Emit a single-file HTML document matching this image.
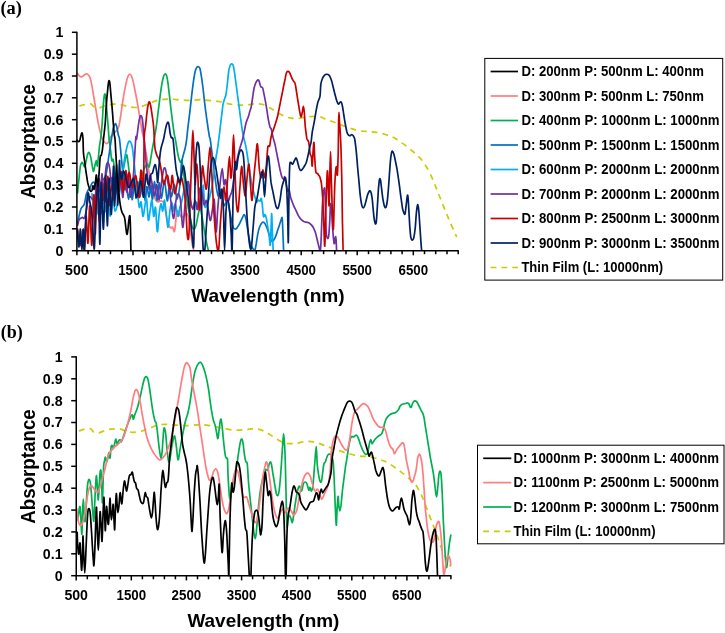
<!DOCTYPE html>
<html lang="en"><head><meta charset="utf-8"><title>Absorptance vs Wavelength</title>
<style>html,body{margin:0;padding:0;background:#fff}body{width:725px;height:633px;overflow:hidden}</style></head>
<body>
<svg width="725" height="633" viewBox="0 0 725 633" style="display:block">
<rect width="725" height="633" fill="#fff"/>
<defs><clipPath id="ca"><rect x="76" y="25" width="390" height="226.2"/></clipPath><clipPath id="cb"><rect x="75" y="350" width="390" height="226.2"/></clipPath></defs>
<path d="M79.4,106.0 C80.2,105.8 82.5,104.9 84.4,104.6 C86.3,104.2 89.2,103.6 90.7,103.9 C92.2,104.2 92.1,105.7 93.4,106.4 C94.8,107.0 96.7,108.0 98.8,107.8 C100.9,107.7 103.6,106.1 106.0,105.5 C108.4,104.9 110.8,104.4 113.2,104.2 C115.6,104.1 118.0,104.2 120.4,104.6 C122.8,104.9 125.2,105.9 127.6,106.4 C130.0,106.9 132.4,107.5 134.8,107.5 C137.2,107.5 139.6,107.1 142.0,106.4 C144.4,105.7 146.8,104.3 149.2,103.3 C151.6,102.4 154.0,101.3 156.4,100.6 C158.8,100.0 161.2,99.6 163.6,99.4 C166.0,99.1 168.4,99.1 170.8,99.2 C173.2,99.2 175.6,99.5 178.0,99.7 C180.4,99.9 182.8,100.2 185.2,100.3 C187.6,100.4 190.0,100.4 192.4,100.3 C194.9,100.2 198.0,99.8 200.0,99.7 C202.0,99.7 202.5,99.9 204.4,100.1 C206.3,100.2 209.2,100.4 211.6,100.6 C214.0,100.9 216.4,101.1 218.8,101.5 C221.2,102.0 223.6,102.8 226.0,103.3 C228.4,103.8 230.8,104.3 233.2,104.6 C235.6,104.9 238.0,105.1 240.4,105.1 C242.8,105.2 245.2,105.0 247.6,104.8 C250.0,104.6 252.4,104.0 254.8,103.9 C257.2,103.8 259.6,103.6 262.0,104.2 C264.4,104.8 266.8,106.2 269.2,107.5 C271.6,108.7 274.0,110.4 276.4,111.8 C278.8,113.2 281.2,114.9 283.6,115.9 C286.0,117.0 288.4,117.7 290.8,118.1 C293.2,118.5 295.6,118.6 298.0,118.4 C300.4,118.3 302.8,117.5 305.2,117.2 C307.6,116.9 310.0,116.5 312.4,116.5 C314.9,116.4 318.0,116.5 320.0,116.8 C322.0,117.2 322.5,117.9 324.4,118.6 C326.3,119.4 329.2,120.4 331.6,121.3 C334.0,122.2 336.4,123.1 338.8,124.0 C341.2,124.9 343.6,125.9 346.0,126.7 C348.4,127.6 350.8,128.4 353.2,129.1 C355.6,129.8 358.0,130.4 360.4,130.9 C362.8,131.3 365.2,131.4 367.6,131.6 C370.0,131.8 372.4,131.8 374.8,132.1 C377.2,132.4 379.6,132.8 382.0,133.4 C384.4,134.0 387.1,135.0 389.2,135.7 C391.3,136.5 392.8,137.1 394.6,138.1 C396.4,139.1 398.2,140.5 400.0,141.7 C401.8,142.9 403.6,144.0 405.4,145.3 C407.2,146.7 409.0,148.3 410.8,149.8 C412.6,151.3 414.4,152.7 416.2,154.3 C418.0,156.0 419.8,157.5 421.6,159.7 C423.4,162.0 425.2,164.7 427.0,167.8 C428.8,171.0 430.9,175.3 432.4,178.6 C433.9,181.9 434.8,184.5 436.0,187.6 C437.3,190.8 438.5,193.8 440.0,197.5 C441.5,201.2 443.3,205.9 445.0,210.0 C446.7,214.1 448.1,217.5 450.0,222.0 C451.9,226.5 455.6,234.5 456.7,237.0" fill="none" stroke="#CCCC00" stroke-width="1.7" stroke-linejoin="round" stroke-linecap="butt" clip-path="url(#ca)" stroke-dasharray="5.8 5"/>
<path d="M77.2,73.3 C77.5,73.6 78.3,74.8 79.0,75.4 C79.7,76.0 80.4,76.8 81.2,76.9 C81.9,76.9 82.7,76.3 83.5,75.8 C84.3,75.3 85.1,74.2 85.8,74.0 C86.6,73.8 87.3,73.8 88.0,74.5 C88.7,75.2 89.5,76.2 90.2,78.1 C90.8,80.1 91.4,83.1 92.0,86.2 C92.6,89.4 93.2,93.4 93.8,97.0 C94.4,100.6 95.0,104.2 95.6,107.8 C96.2,111.4 96.8,115.3 97.4,118.6 C98.0,121.9 98.6,124.9 99.2,127.6 C99.8,130.3 100.4,132.8 101.0,134.8 C101.6,136.9 102.2,138.7 102.8,139.9 C103.4,141.1 104.0,141.6 104.6,142.2 C105.1,142.8 105.6,143.4 106.2,143.5 C106.8,143.6 107.5,143.7 108.2,142.6 C108.9,141.5 109.7,138.4 110.5,137.0 C111.4,135.5 112.2,135.0 113.2,133.9 C114.3,132.8 115.9,131.7 116.8,130.3 C117.8,129.0 118.3,128.4 119.0,125.8 C119.6,123.3 120.2,118.9 120.8,115.0 C121.4,111.1 122.0,106.3 122.6,102.4 C123.2,98.5 123.8,94.9 124.4,91.6 C125.0,88.3 125.6,85.2 126.2,82.6 C126.8,80.1 127.4,77.8 128.0,76.3 C128.6,74.9 129.2,74.0 129.8,74.0 C130.4,74.0 131.0,74.9 131.6,76.3 C132.2,77.8 132.8,80.1 133.4,82.6 C134.0,85.2 134.6,88.6 135.2,91.6 C135.8,94.6 136.4,97.3 137.0,100.6 C137.6,103.9 138.2,107.8 138.8,111.4 C139.4,115.0 140.0,118.6 140.6,122.2 C141.2,125.8 141.8,130.2 142.4,133.0 C142.9,135.8 143.3,136.2 143.8,139.0 C144.4,141.8 145.0,146.2 145.6,149.8 C146.2,153.4 146.8,156.7 147.4,160.6 C148.0,164.5 148.6,169.6 149.2,173.2 C149.8,176.8 150.4,179.2 151.0,182.2 C151.6,185.2 152.2,188.7 152.8,191.2 C153.4,193.8 154.0,195.9 154.6,197.5 C155.2,199.2 155.8,200.4 156.4,201.1 C157.0,201.9 157.6,202.0 158.2,202.0 C158.8,202.0 159.4,201.3 160.0,201.1 C160.6,201.0 161.2,200.8 161.8,201.1 C162.4,201.4 163.0,201.3 163.6,202.9 C164.2,204.6 164.8,208.2 165.4,211.0 C166.0,213.9 166.6,217.6 167.2,220.0 C167.8,222.4 168.4,224.1 169.0,225.4 C169.6,226.8 170.2,227.8 170.8,228.1 C171.4,228.4 172.0,226.6 172.6,227.2 C173.2,227.8 173.9,232.3 174.4,231.7 C174.9,231.1 175.1,226.8 175.5,223.6 C175.9,220.5 176.2,214.9 176.6,212.8 C177.0,210.7 177.5,210.7 178.0,211.0 C178.6,211.3 179.2,213.6 179.8,214.6 C180.4,215.7 181.0,217.0 181.6,217.3 C182.2,217.6 182.8,216.9 183.4,216.4 C184.0,216.0 184.6,215.1 185.2,214.6 C185.8,214.2 186.4,213.1 187.0,213.7 C187.6,214.3 188.2,215.1 188.8,218.2 C189.4,221.4 190.0,228.1 190.6,232.6 C191.2,237.1 191.9,242.2 192.4,245.2 C193.0,248.2 193.6,249.7 193.9,250.6" fill="none" stroke="#FF7C80" stroke-width="1.7" stroke-linejoin="round" stroke-linecap="round" clip-path="url(#ca)"/>
<path d="M77.6,193.0 C77.8,190.6 78.5,183.1 79.0,178.6 C79.5,174.1 80.0,168.7 80.4,166.0 C80.9,163.3 81.4,162.7 81.9,162.4 C82.4,162.1 82.8,163.5 83.3,164.2 C83.8,165.0 84.3,167.5 84.8,166.9 C85.2,166.3 85.7,162.7 86.2,160.6 C86.7,158.5 87.2,155.7 87.6,154.3 C88.1,153.0 88.6,152.2 89.1,152.5 C89.6,152.8 90.0,154.2 90.5,156.1 C91.0,158.1 91.5,161.7 92.0,164.2 C92.4,166.8 92.9,171.1 93.4,171.4 C93.9,171.7 94.4,167.8 94.8,166.0 C95.3,164.2 95.9,160.6 96.3,160.6 C96.7,160.6 97.0,166.6 97.4,166.0 C97.7,165.4 98.1,160.3 98.4,157.0 C98.8,153.7 99.2,149.2 99.5,146.2 C99.9,143.2 100.3,141.2 100.6,139.0 C100.9,136.8 101.1,135.2 101.3,133.0 C101.6,130.8 101.7,130.0 102.0,125.8 C102.3,121.6 102.8,112.8 103.1,107.8 C103.5,102.9 103.9,98.4 104.2,96.1 C104.5,93.9 104.8,93.6 105.1,94.3 C105.4,95.1 105.7,97.8 106.0,100.6 C106.3,103.5 106.6,107.8 106.9,111.4 C107.2,115.0 107.5,118.0 107.8,122.2 C108.1,126.4 108.6,133.2 108.9,136.6 C109.2,140.0 109.3,140.4 109.6,142.6 C109.9,144.8 110.2,146.8 110.5,149.8 C110.9,152.8 111.3,159.0 111.8,160.6 C112.2,162.3 112.7,157.9 113.2,159.7 C113.7,161.5 114.2,167.4 114.7,171.4 C115.1,175.5 115.6,180.1 116.1,184.0 C116.6,187.9 117.1,193.9 117.5,194.8 C118.0,195.7 118.5,191.5 119.0,189.4 C119.5,187.3 119.9,184.6 120.4,182.2 C121.0,179.8 121.6,177.7 122.2,175.0 C122.8,172.3 123.4,169.0 124.0,166.0 C124.6,163.0 125.3,158.8 125.8,157.0 C126.3,155.2 126.5,154.3 126.9,155.2 C127.3,156.1 127.6,159.4 128.0,162.4 C128.4,165.4 128.9,169.6 129.4,173.2 C130.0,176.8 130.6,182.8 131.2,184.0 C131.8,185.2 132.4,181.3 133.0,180.4 C133.6,179.5 134.2,178.3 134.8,178.6 C135.4,178.9 136.0,181.0 136.6,182.2 C137.2,183.4 137.8,186.4 138.4,185.8 C139.0,185.2 139.6,180.4 140.2,178.6 C140.8,176.8 141.4,176.5 142.0,175.0 C142.6,173.5 143.2,171.1 143.8,169.6 C144.4,168.1 145.0,166.9 145.6,166.0 C146.2,165.1 146.8,164.1 147.4,164.2 C148.0,164.4 148.6,168.1 149.2,166.9 C149.8,165.7 150.4,160.5 151.0,157.0 C151.6,153.6 152.3,149.2 152.8,146.2 C153.4,143.2 153.9,140.9 154.3,139.0 C154.6,137.1 154.6,137.0 155.0,134.8 C155.3,132.6 155.9,129.7 156.4,125.8 C157.0,121.9 157.6,116.2 158.2,111.4 C158.8,106.6 159.4,101.5 160.0,97.0 C160.6,92.5 161.2,87.9 161.8,84.4 C162.4,81.0 163.1,78.1 163.6,76.3 C164.2,74.6 164.6,74.1 165.1,74.0 C165.5,73.8 166.0,74.0 166.5,75.4 C167.0,76.9 167.5,79.3 167.9,82.6 C168.4,85.9 168.9,91.0 169.4,95.2 C169.9,99.4 170.3,103.3 170.8,107.8 C171.4,112.3 172.0,117.7 172.6,122.2 C173.2,126.7 173.9,131.9 174.4,134.8 C174.9,137.8 175.1,137.4 175.5,139.9 C176.0,142.4 176.6,146.7 177.1,149.8 C177.7,153.0 178.3,156.7 178.9,158.8 C179.5,160.9 180.2,162.1 180.7,162.4 C181.2,162.7 181.5,159.1 182.0,160.6 C182.4,162.1 182.9,167.2 183.4,171.4 C184.0,175.6 184.6,181.0 185.2,185.8 C185.8,190.6 186.4,196.0 187.0,200.2 C187.6,204.4 188.2,207.7 188.8,211.0 C189.4,214.3 190.0,217.3 190.6,220.0 C191.2,222.7 191.8,225.7 192.4,227.2 C193.0,228.7 193.6,229.3 194.2,229.0 C194.8,228.7 195.4,227.5 196.0,225.4 C196.6,223.3 197.2,219.4 197.8,216.4 C198.5,213.4 199.4,207.7 200.0,207.4 C200.6,207.1 201.1,211.6 201.7,214.6 C202.3,217.6 202.9,221.8 203.5,225.4 C204.1,229.0 204.7,232.9 205.3,236.2 C205.9,239.5 206.6,242.9 207.1,245.2 C207.6,247.6 208.2,249.4 208.4,250.3" fill="none" stroke="#00B050" stroke-width="1.7" stroke-linejoin="round" stroke-linecap="round" clip-path="url(#ca)"/>
<path d="M77.6,223.6 C77.8,222.4 78.5,218.8 79.0,216.4 C79.5,214.0 80.2,210.9 80.8,209.2 C81.4,207.6 82.0,207.4 82.6,206.5 C83.2,205.6 83.8,205.8 84.4,203.8 C85.0,201.9 85.6,197.1 86.2,194.8 C86.8,192.6 87.4,191.4 88.0,190.3 C88.6,189.3 89.2,189.6 89.8,188.5 C90.4,187.5 91.0,185.1 91.6,184.0 C92.2,183.0 92.8,182.2 93.4,182.2 C94.0,182.2 94.6,183.3 95.2,184.0 C95.8,184.8 96.4,187.0 97.0,186.7 C97.6,186.4 98.2,182.7 98.8,182.2 C99.4,181.8 100.0,184.3 100.6,184.0 C101.2,183.7 101.8,181.3 102.4,180.4 C103.0,179.5 103.6,179.5 104.2,178.6 C104.8,177.7 105.3,178.6 106.0,175.0 C106.8,171.4 107.9,162.7 108.7,157.0 C109.6,151.3 110.5,144.5 111.1,140.8 C111.6,137.1 111.8,136.9 112.1,134.8 C112.5,132.8 112.8,130.2 113.2,128.5 C113.6,126.9 114.2,125.7 114.7,124.9 C115.1,124.1 115.4,123.4 115.7,123.7 C116.1,124.0 116.4,124.9 116.8,126.7 C117.2,128.6 117.8,132.8 118.3,134.8 C118.7,136.9 119.0,135.3 119.5,139.0 C120.0,142.7 120.7,151.0 121.3,157.0 C121.9,163.0 122.5,169.6 123.1,175.0 C123.7,180.4 124.4,188.0 124.9,189.4 C125.4,190.8 125.5,181.8 126.1,183.4 C126.7,185.1 127.9,199.4 128.6,199.4 C129.4,199.4 130.0,183.2 130.7,183.3 C131.3,183.3 131.7,199.9 132.3,199.7 C133.0,199.5 133.9,182.2 134.5,182.0 C135.2,181.8 135.6,198.5 136.1,198.4 C136.6,198.4 137.0,182.2 137.7,181.9 C138.3,181.7 139.2,197.0 140.0,196.9 C140.9,196.7 141.9,180.4 142.8,181.0 C143.6,181.6 144.4,199.4 145.1,200.3 C145.8,201.3 146.2,187.3 146.8,186.7 C147.5,186.2 148.4,197.2 149.1,197.0 C149.7,196.8 150.3,184.9 150.9,185.3 C151.4,185.7 151.8,200.0 152.5,199.4 C153.1,198.8 153.9,181.6 154.6,181.7 C155.4,181.9 156.2,200.3 156.9,200.5 C157.7,200.6 158.4,183.2 159.2,182.8 C159.9,182.5 160.6,198.6 161.4,198.3 C162.3,198.0 163.5,180.4 164.5,180.8 C165.4,181.2 166.5,200.1 167.3,200.9 C168.1,201.6 168.7,186.1 169.4,185.4 C170.1,184.8 170.7,197.2 171.5,197.0 C172.3,196.9 173.3,184.1 174.3,184.4 C175.2,184.7 176.2,199.4 177.2,198.9 C178.2,198.5 179.6,187.8 180.4,181.7 C181.1,175.6 180.8,168.0 181.6,162.4 C182.4,156.8 184.4,151.9 185.2,148.0 C186.1,144.1 186.2,142.4 186.7,139.0 C187.1,135.6 187.4,131.9 187.9,127.6 C188.4,123.3 189.1,118.3 189.7,113.2 C190.3,108.1 190.9,102.1 191.5,97.0 C192.1,91.9 192.7,86.8 193.3,82.6 C193.9,78.4 194.5,74.4 195.1,71.8 C195.7,69.3 196.3,68.2 196.9,67.3 C197.5,66.5 198.2,66.5 198.7,66.8 C199.3,67.1 199.6,67.4 200.1,69.1 C200.5,70.9 201.0,74.1 201.5,77.2 C202.0,80.4 202.5,84.1 203.0,88.0 C203.4,91.9 203.9,96.1 204.4,100.6 C204.9,105.1 205.6,110.5 206.2,115.0 C206.8,119.5 207.5,124.0 208.0,127.6 C208.5,131.2 209.1,134.7 209.4,136.6 C209.8,138.5 209.8,136.8 210.2,139.0 C210.5,141.2 211.1,145.6 211.6,149.8 C212.1,154.0 212.8,159.4 213.4,164.2 C214.0,169.0 214.6,174.1 215.2,178.6 C215.8,183.1 216.4,188.2 217.0,191.2 C217.6,194.2 218.2,196.9 218.8,196.6 C219.4,196.3 220.0,188.8 220.6,189.4 C221.2,190.0 221.8,197.5 222.4,200.2 C223.0,202.9 223.6,205.3 224.2,205.6 C224.8,205.9 225.4,202.9 226.0,202.0 C226.6,201.1 227.2,198.7 227.8,200.2 C228.4,201.7 229.0,207.7 229.6,211.0 C230.2,214.3 230.8,217.3 231.4,220.0 C232.0,222.7 232.6,225.7 233.2,227.2 C233.8,228.7 234.4,228.9 235.0,229.0 C235.6,229.2 236.2,228.7 236.8,228.1 C237.4,227.5 238.0,226.5 238.6,225.4 C239.2,224.4 239.8,223.0 240.4,221.8 C241.0,220.6 241.6,219.4 242.2,218.2 C242.8,217.0 243.4,214.6 244.0,214.6 C244.6,214.6 245.2,215.8 245.8,218.2 C246.4,220.6 247.0,225.4 247.6,229.0 C248.2,232.6 248.8,237.1 249.4,239.8 C250.0,242.5 250.6,243.7 251.2,245.2 C251.8,246.7 252.4,248.0 253.0,248.8 C253.6,249.7 254.3,251.2 254.8,250.3 C255.4,249.4 255.8,246.1 256.3,243.4 C256.7,240.8 257.2,237.1 257.7,234.4 C258.2,231.7 258.9,229.0 259.5,227.2 C260.1,225.4 260.7,224.5 261.3,223.6 C261.9,222.8 262.5,222.2 263.1,222.2 C263.7,222.2 264.3,222.8 264.9,223.6 C265.5,224.5 266.1,225.7 266.7,227.2 C267.3,228.7 267.9,230.8 268.5,232.6 C269.1,234.4 269.7,236.5 270.3,238.0 C270.9,239.5 271.5,241.3 272.1,241.6 C272.7,241.9 273.3,240.7 273.9,239.8 C274.5,238.9 275.1,237.7 275.7,236.2 C276.3,234.7 276.9,232.6 277.5,230.8 C278.1,229.0 278.7,227.2 279.3,225.4 C279.9,223.6 280.6,221.2 281.1,220.0 C281.6,218.8 281.9,216.1 282.2,218.2 C282.5,220.3 282.7,227.3 282.9,232.6 C283.1,238.0 283.5,247.3 283.6,250.3" fill="none" stroke="#0070C0" stroke-width="1.7" stroke-linejoin="round" stroke-linecap="round" clip-path="url(#ca)"/>
<path d="M92.0,193.9 C92.4,197.3 93.5,214.3 94.2,214.2 C94.8,214.0 95.1,193.2 95.8,193.2 C96.5,193.2 97.5,213.7 98.2,214.4 C98.9,215.1 99.6,197.4 100.2,197.2 C100.8,197.0 101.0,213.2 101.6,213.4 C102.2,213.6 103.0,198.6 103.7,198.4 C104.4,198.2 105.4,212.3 106.1,212.4 C106.7,212.4 107.0,198.0 107.7,198.6 C108.4,199.2 109.5,216.7 110.3,216.0 C111.2,215.3 112.0,195.3 112.8,194.5 C113.6,193.6 114.0,210.4 115.0,211.0 C116.0,211.7 117.4,204.4 118.6,198.4 C119.8,192.4 121.2,181.9 122.2,175.0 C123.3,168.1 124.0,162.1 124.9,157.0 C125.8,151.9 126.8,147.0 127.6,144.4 C128.4,141.8 129.0,140.9 129.8,141.2 C130.5,141.5 131.4,143.0 132.1,146.2 C132.8,149.4 133.3,155.2 133.9,160.6 C134.5,166.0 135.1,173.2 135.7,178.6 C136.3,184.0 136.9,188.2 137.5,193.0 C138.1,197.8 138.7,205.9 139.3,207.4 C139.9,208.9 140.5,200.5 141.1,202.0 C141.7,203.5 142.3,215.5 142.9,216.4 C143.5,217.3 144.1,210.4 144.7,207.4 C145.3,204.4 145.9,196.3 146.5,198.4 C147.1,200.5 147.7,217.9 148.3,220.0 C148.9,222.1 149.5,214.3 150.1,211.0 C150.7,207.7 151.3,199.3 151.9,200.2 C152.5,201.1 153.1,215.2 153.7,216.4 C154.3,217.6 154.9,204.9 155.5,207.4 C156.1,210.0 156.7,230.5 157.3,231.7 C157.9,232.9 158.5,219.3 159.1,214.6 C159.7,210.0 160.3,204.4 160.9,203.8 C161.5,203.2 162.1,211.6 162.7,211.0 C163.3,210.4 163.9,199.6 164.5,200.2 C165.1,200.8 165.7,210.1 166.3,214.6 C166.9,219.1 167.5,227.8 168.1,227.2 C168.7,226.6 169.3,215.2 169.9,211.0 C170.5,206.8 171.1,202.0 171.7,202.0 C172.3,202.0 172.9,210.7 173.5,211.0 C174.1,211.3 174.6,202.9 175.3,203.8 C176.1,204.7 177.3,215.8 178.0,216.4 C178.8,217.0 179.2,209.8 179.8,207.4 C180.4,205.0 181.0,204.4 181.6,202.0 C182.2,199.6 182.8,196.0 183.4,193.0 C184.0,190.0 184.6,185.8 185.2,184.0 C185.8,182.2 186.4,181.3 187.0,182.2 C187.6,183.1 188.2,186.1 188.8,189.4 C189.4,192.7 190.0,199.0 190.6,202.0 C191.2,205.0 191.5,207.4 192.4,207.4 C193.3,207.4 194.8,201.7 196.0,202.0 C197.3,202.3 199.1,208.4 200.0,209.2 C200.9,210.0 201.0,210.8 201.5,206.8 C202.0,202.8 202.5,185.2 203.1,185.2 C203.7,185.1 204.1,203.9 204.9,206.7 C205.7,209.5 207.0,204.3 208.0,202.0 C209.0,199.7 210.0,196.0 210.7,193.0 C211.5,190.0 211.9,187.9 212.5,184.0 C213.1,180.1 213.7,174.1 214.3,169.6 C214.9,165.1 215.5,160.9 216.1,157.0 C216.7,153.1 217.5,149.2 217.9,146.2 C218.4,143.2 218.4,142.1 218.8,139.0 C219.2,135.9 219.8,131.6 220.2,127.6 C220.7,123.6 221.2,118.9 221.7,115.0 C222.2,111.1 222.6,106.9 223.1,104.2 C223.6,101.5 224.1,100.5 224.6,98.8 C225.0,97.2 225.5,97.0 226.0,94.3 C226.5,91.6 227.0,86.7 227.5,82.6 C227.9,78.6 228.4,73.0 228.9,70.0 C229.4,67.1 229.9,66.0 230.3,65.0 C230.8,64.0 231.3,63.8 231.8,63.9 C232.3,64.0 232.7,63.9 233.2,65.5 C233.7,67.1 234.2,70.5 234.7,73.6 C235.1,76.8 235.6,80.8 236.1,84.4 C236.6,88.0 237.1,91.6 237.5,95.2 C238.0,98.8 238.5,102.4 239.0,106.0 C239.5,109.6 239.9,113.2 240.4,116.8 C240.9,120.4 241.4,124.5 241.9,127.6 C242.3,130.8 242.9,133.8 243.3,135.7 C243.7,137.6 243.6,137.3 244.0,139.0 C244.4,140.7 245.2,143.2 245.8,146.2 C246.4,149.2 247.0,153.1 247.6,157.0 C248.2,160.9 248.8,165.7 249.4,169.6 C250.0,173.5 250.6,177.1 251.2,180.4 C251.8,183.7 252.4,186.7 253.0,189.4 C253.6,192.1 254.2,194.5 254.8,196.6 C255.4,198.7 256.0,201.4 256.6,202.0 C257.2,202.6 257.8,200.4 258.4,200.2 C259.0,200.1 259.7,201.4 260.2,201.1 C260.7,200.8 260.9,197.7 261.3,198.4 C261.7,199.2 262.0,202.6 262.4,205.6 C262.7,208.6 263.0,214.9 263.5,216.4 C263.9,217.9 264.4,214.3 264.9,214.6 C265.4,214.9 265.9,216.1 266.3,218.2 C266.8,220.3 267.3,224.2 267.8,227.2 C268.3,230.2 268.8,233.2 269.2,236.2 C269.6,239.2 270.0,246.4 270.3,245.2 C270.6,244.0 270.8,234.3 271.0,229.0 C271.3,223.8 271.5,212.5 271.7,213.7 C272.0,214.9 272.2,230.1 272.5,236.2 C272.7,242.3 273.1,247.9 273.2,250.3" fill="none" stroke="#00B0F0" stroke-width="1.7" stroke-linejoin="round" stroke-linecap="round" clip-path="url(#ca)"/>
<path d="M77.6,225.4 C77.8,224.5 78.5,221.2 79.0,220.0 C79.5,218.8 80.2,218.7 80.8,218.2 C81.4,217.8 82.0,217.3 82.6,217.3 C83.2,217.3 83.8,219.3 84.4,218.2 C85.0,217.2 85.6,214.0 86.2,211.0 C86.8,208.0 87.4,202.6 88.0,200.2 C88.6,197.8 89.2,196.9 89.8,196.6 C90.4,196.3 91.0,197.8 91.6,198.4 C92.2,199.0 92.8,199.8 93.4,200.2 C94.0,200.7 94.7,204.7 95.2,201.1 C95.7,197.5 96.0,179.3 96.5,178.5 C97.0,177.6 97.5,196.0 98.0,196.0 C98.5,196.0 98.8,178.4 99.3,178.5 C99.7,178.5 100.2,197.3 100.6,196.5 C101.0,195.8 101.4,174.7 101.9,173.9 C102.4,173.2 102.9,193.1 103.6,192.0 C104.3,191.0 105.3,172.7 106.0,167.8 C106.7,162.9 107.2,162.4 107.8,162.4 C108.4,162.4 109.0,164.2 109.6,167.8 C110.2,171.4 110.9,182.4 111.4,184.0 C111.9,185.7 112.0,175.5 112.5,177.7 C113.0,180.0 113.6,198.1 114.3,197.5 C114.9,196.9 115.7,174.5 116.3,174.1 C116.8,173.6 117.1,194.5 117.8,194.7 C118.4,195.0 119.4,175.1 120.2,175.5 C121.0,175.9 122.0,196.8 122.7,197.4 C123.5,198.0 123.9,180.2 124.6,179.3 C125.3,178.4 126.3,192.8 126.9,192.0 C127.5,191.1 127.7,173.1 128.3,174.0 C128.9,174.9 129.9,196.4 130.7,197.1 C131.5,197.7 132.4,187.5 133.2,177.8 C134.1,168.1 135.2,145.5 135.7,139.0 C136.3,132.5 136.2,140.9 136.6,139.0 C137.0,137.1 137.6,131.0 138.1,127.6 C138.5,124.2 139.0,120.6 139.5,118.6 C140.0,116.6 140.5,115.4 140.9,115.6 C141.4,115.7 142.0,116.9 142.4,119.5 C142.8,122.1 143.2,128.0 143.5,131.2 C143.8,134.5 143.8,134.7 144.2,139.0 C144.5,143.3 145.1,151.0 145.6,157.0 C146.2,163.0 146.8,169.6 147.4,175.0 C148.0,180.4 148.8,189.3 149.2,189.4 C149.7,189.5 149.5,176.3 150.0,175.5 C150.5,174.6 151.5,181.1 152.3,184.5 C153.0,187.9 153.8,195.8 154.5,195.8 C155.3,195.8 156.0,183.7 156.8,184.5 C157.5,185.2 158.3,200.3 159.0,200.3 C159.8,200.3 160.5,189.6 161.3,184.5 C162.0,179.4 162.9,172.5 163.5,169.8 C164.2,167.2 164.8,167.4 165.3,168.7 C165.9,170.0 166.3,174.3 166.9,177.7 C167.6,181.1 168.4,184.5 169.2,189.0 C169.9,193.5 170.7,199.9 171.4,204.8 C172.2,209.7 172.9,219.1 173.7,218.4 C174.5,217.6 175.2,204.4 176.0,200.3 C176.7,196.2 177.5,193.5 178.2,193.5 C179.0,193.5 179.7,194.7 180.5,200.3 C181.2,205.9 182.0,226.6 182.7,227.4 C183.5,228.1 184.2,212.0 185.0,204.8 C185.7,197.7 186.6,188.1 187.2,184.5 C187.9,180.9 188.3,180.7 188.8,183.4 C189.4,186.0 190.0,196.0 190.6,200.3 C191.3,204.6 192.1,209.3 192.9,209.3 C193.6,209.3 194.4,200.3 195.1,200.3 C195.9,200.3 196.7,211.2 197.4,209.3 C198.2,207.4 198.9,192.0 199.7,189.0 C200.4,186.0 201.2,188.6 201.9,191.3 C202.7,193.9 203.4,203.3 204.2,204.8 C204.9,206.3 205.8,199.5 206.4,200.3 C207.1,201.0 207.6,205.9 208.2,209.3 C208.9,212.7 209.7,221.0 210.5,220.6 C211.2,220.2 212.1,210.5 212.8,207.1 C213.4,203.7 213.8,196.2 214.3,200.3 C214.9,204.4 215.6,230.4 216.1,231.9 C216.7,233.4 217.1,217.2 217.7,209.3 C218.4,201.4 219.2,191.3 220.0,184.5 C220.7,177.7 221.6,168.7 222.2,168.7 C222.9,168.7 223.4,182.6 224.0,184.5 C224.6,186.4 225.2,177.3 225.8,180.0 C226.5,182.6 227.2,197.7 227.9,200.3 C228.6,202.9 229.4,197.7 230.1,195.8 C230.9,193.9 231.5,193.9 232.4,189.0 C233.3,184.1 234.7,172.8 235.8,166.4 C236.9,160.0 238.0,155.1 239.2,150.6 C240.3,146.1 241.4,143.9 242.6,139.3 C243.7,134.8 245.0,127.3 245.9,123.5 C246.9,119.8 247.7,118.8 248.3,116.8 C249.0,114.8 249.3,113.1 249.8,111.4 C250.3,109.8 250.7,109.3 251.2,106.9 C251.7,104.5 252.2,100.2 252.7,97.0 C253.1,93.9 253.6,90.3 254.1,88.0 C254.6,85.8 255.1,84.7 255.5,83.5 C256.0,82.3 256.6,81.4 257.0,80.8 C257.4,80.2 257.7,79.9 258.1,79.9 C258.4,80.0 258.8,80.3 259.1,81.2 C259.5,82.1 259.9,84.3 260.2,85.3 C260.6,86.3 260.9,86.7 261.3,87.1 C261.7,87.6 262.3,86.7 262.7,88.0 C263.2,89.4 263.7,92.8 264.2,95.2 C264.7,97.6 265.1,99.7 265.6,102.4 C266.1,105.1 266.6,108.4 267.1,111.4 C267.5,114.4 268.0,117.9 268.5,120.4 C269.0,123.0 269.5,125.2 269.9,126.7 C270.4,128.2 271.0,128.1 271.4,129.4 C271.8,130.8 272.1,133.2 272.5,134.8 C272.8,136.4 273.1,137.4 273.5,139.0 C274.0,140.6 274.5,142.3 275.0,144.4 C275.5,146.5 275.9,148.9 276.4,151.6 C277.0,154.3 277.6,157.6 278.2,160.6 C278.8,163.6 279.4,166.9 280.0,169.6 C280.6,172.3 281.2,175.2 281.8,176.8 C282.4,178.5 283.1,179.5 283.6,179.5 C284.1,179.5 284.3,176.1 284.7,176.8 C285.1,177.6 285.7,181.6 286.1,184.0 C286.6,186.4 287.1,190.3 287.6,191.2 C288.1,192.1 288.5,188.5 289.0,189.4 C289.5,190.3 290.0,194.7 290.5,196.6 C290.9,198.6 291.4,199.6 291.9,201.1 C292.4,202.6 293.0,204.0 293.7,205.6 C294.4,207.3 295.4,209.2 296.2,211.0 C297.1,212.8 297.9,215.0 298.8,216.4 C299.6,217.9 300.4,218.8 301.3,219.7 C302.1,220.5 303.0,221.0 303.8,221.5 C304.6,221.9 305.5,222.0 306.3,222.2 C307.2,222.4 307.9,222.2 308.8,222.7 C309.7,223.3 311.0,224.5 311.8,225.4 C312.6,226.3 313.0,226.9 313.6,228.1 C314.2,229.3 314.8,230.7 315.4,232.6 C316.0,234.6 316.6,237.4 317.2,239.8 C317.8,242.2 318.5,245.3 319.0,247.0 C319.5,248.8 320.0,253.3 320.4,250.3 C320.9,247.3 321.2,237.1 321.5,229.0 C321.9,221.0 322.2,208.3 322.6,202.0 C323.0,195.7 323.3,193.3 323.7,191.2 C324.0,189.1 324.5,186.1 324.8,189.4 C325.1,192.7 325.2,203.8 325.5,211.0 C325.7,218.2 325.9,228.1 326.2,232.6 C326.5,237.1 326.9,237.4 327.3,238.0 C327.7,238.6 328.3,239.2 328.7,236.2 C329.1,233.2 329.5,225.4 329.8,220.0 C330.1,214.6 330.2,205.3 330.5,203.8 C330.8,202.3 331.2,206.8 331.6,211.0 C332.0,215.2 332.3,223.9 332.7,229.0 C333.0,234.1 333.5,239.2 333.8,241.6 C334.1,244.0 334.2,244.0 334.5,243.4 C334.7,242.8 335.0,239.0 335.2,238.0 C335.4,237.1 335.7,235.6 335.9,237.7 C336.2,239.7 336.5,248.2 336.6,250.3" fill="none" stroke="#7030A0" stroke-width="1.7" stroke-linejoin="round" stroke-linecap="round" clip-path="url(#ca)"/>
<path d="M77.6,229.0 C77.7,231.1 78.3,240.4 78.6,241.6 C79.0,242.8 79.4,235.6 79.7,236.2 C80.1,236.8 80.4,244.3 80.8,245.2 C81.2,246.1 81.5,244.2 81.9,241.6 C82.2,239.1 82.6,228.6 83.0,230.0 C83.4,231.4 83.8,252.2 84.4,249.9 C84.9,247.6 85.5,217.3 86.1,216.2 C86.7,215.0 87.3,245.0 87.9,243.2 C88.5,241.4 89.2,205.0 89.8,205.4 C90.5,205.7 91.1,247.0 91.8,245.2 C92.5,243.4 93.3,196.7 93.9,194.8 C94.4,192.9 94.9,232.1 95.2,234.1 C95.6,236.1 95.6,214.6 96.0,206.8 C96.4,199.0 96.8,184.7 97.4,187.3 C97.9,189.9 98.7,221.9 99.4,222.2 C100.2,222.5 101.1,192.9 101.8,189.2 C102.5,185.5 103.0,201.9 103.5,200.0 C104.0,198.1 104.4,177.4 104.8,177.7 C105.2,178.0 105.3,201.9 105.8,201.7 C106.4,201.5 107.4,175.8 107.9,176.4 C108.5,177.1 108.7,204.1 109.3,205.6 C110.0,207.2 110.9,186.4 111.7,185.5 C112.5,184.6 113.5,201.2 114.2,200.4 C114.9,199.7 115.0,182.6 115.8,181.0 C116.6,179.5 118.1,192.6 119.0,191.0 C119.9,189.4 120.8,171.3 121.5,171.6 C122.2,171.8 122.5,192.6 123.2,192.4 C124.0,192.2 125.1,171.4 125.8,170.5 C126.4,169.6 126.6,186.8 127.2,187.0 C127.7,187.3 128.3,171.9 129.2,172.0 C130.0,172.1 131.2,187.2 132.3,187.8 C133.4,188.4 134.6,174.0 135.7,175.6 C136.9,177.2 138.4,198.4 139.3,197.5 C140.2,196.6 140.2,171.8 140.9,170.2 C141.6,168.6 142.9,193.3 143.4,188.1 C144.0,182.9 143.8,149.3 144.2,139.0 C144.5,128.6 145.1,130.4 145.6,125.8 C146.1,121.2 146.6,115.2 147.1,111.4 C147.5,107.7 148.1,104.9 148.5,103.3 C148.9,101.8 149.2,101.6 149.6,102.1 C149.9,102.5 150.2,103.9 150.7,106.0 C151.1,108.2 151.6,111.7 152.1,115.0 C152.6,118.3 153.2,122.0 153.5,125.8 C153.9,129.7 154.1,134.5 154.3,138.2 C154.5,142.0 154.6,145.6 155.0,148.4 C155.4,151.2 156.2,153.5 156.8,155.1 C157.4,156.8 158.0,157.0 158.6,158.5 C159.1,160.0 159.5,161.0 160.2,164.2 C160.8,167.4 161.8,174.3 162.4,177.7 C163.1,181.1 163.4,184.5 164.0,184.5 C164.6,184.5 165.2,179.2 165.8,177.7 C166.4,176.2 167.0,174.3 167.6,175.5 C168.2,176.6 168.7,182.2 169.2,184.5 C169.7,186.7 170.3,190.5 170.8,189.0 C171.3,187.5 171.7,176.2 172.1,175.5 C172.6,174.7 173.0,181.5 173.5,184.5 C173.9,187.5 174.3,193.1 174.8,193.5 C175.4,193.9 176.1,189.4 176.6,186.7 C177.2,184.1 177.7,178.1 178.2,177.7 C178.7,177.3 179.2,184.5 179.8,184.5 C180.4,184.5 180.9,177.0 181.6,177.7 C182.3,178.5 183.2,184.5 183.9,189.0 C184.5,193.5 185.1,197.3 185.7,204.8 C186.2,212.3 186.7,228.9 187.2,234.2 C187.8,239.4 188.3,242.1 188.8,236.4 C189.3,230.8 189.7,213.8 190.2,200.3 C190.7,186.7 191.3,166.8 191.8,155.1 C192.2,143.5 192.5,130.3 192.9,130.3 C193.3,130.3 193.6,146.1 194.0,155.1 C194.4,164.2 194.7,183.0 195.1,184.5 C195.6,186.0 196.0,165.3 196.5,164.2 C197.0,163.0 197.4,170.2 197.9,177.7 C198.3,185.2 198.7,206.3 199.2,209.3 C199.7,212.3 200.3,202.9 200.8,195.8 C201.3,188.6 201.8,169.4 202.4,166.4 C202.9,163.4 203.5,174.0 204.2,177.7 C204.9,181.5 205.8,190.9 206.4,189.0 C207.1,187.1 207.6,173.4 208.2,166.4 C208.8,159.5 209.5,147.2 210.0,147.2 C210.6,147.2 210.9,157.6 211.4,166.4 C211.9,175.3 212.6,190.1 213.2,200.3 C213.8,210.5 214.4,219.9 215.0,227.4 C215.6,234.9 216.2,241.7 216.8,245.4 C217.4,249.2 218.0,253.7 218.6,250.0 C219.2,246.2 219.8,231.1 220.4,222.9 C221.0,214.6 221.6,206.3 222.2,200.3 C222.8,194.3 223.4,186.7 224.0,186.7 C224.6,186.7 225.2,201.8 225.8,200.3 C226.4,198.8 227.1,185.1 227.7,177.7 C228.3,170.4 228.9,156.3 229.5,156.3 C230.0,156.3 230.4,176.0 230.8,177.7 C231.3,179.4 231.7,173.6 232.2,166.4 C232.6,159.3 233.1,134.8 233.5,134.8 C234.0,134.8 234.4,155.5 234.9,166.4 C235.3,177.3 235.7,192.8 236.2,200.3 C236.8,207.8 237.4,213.5 238.0,211.6 C238.6,209.7 239.2,196.5 239.8,189.0 C240.4,181.5 241.0,167.2 241.6,166.4 C242.2,165.7 242.9,179.6 243.5,184.5 C244.1,189.4 244.7,196.9 245.3,195.8 C245.9,194.7 246.5,183.0 247.1,177.7 C247.7,172.5 248.3,163.0 248.9,164.2 C249.4,165.3 249.9,178.5 250.5,184.5 C251.0,190.5 251.5,201.4 252.0,200.3 C252.6,199.2 253.2,184.5 253.8,177.7 C254.4,170.9 255.0,165.3 255.6,159.7 C256.2,154.0 256.8,142.4 257.4,143.9 C258.1,145.4 258.7,163.0 259.3,168.7 C259.9,174.3 260.5,177.5 261.1,177.7 C261.7,177.9 262.3,169.8 262.9,169.8 C263.5,169.8 264.1,178.3 264.7,177.7 C265.2,177.2 265.7,171.5 266.3,166.4 C266.8,161.4 267.3,150.6 267.8,147.2 C268.4,143.9 269.2,147.5 269.6,146.1 C270.1,144.7 270.3,141.2 270.7,139.0 C271.1,136.8 271.6,134.6 272.1,133.0 C272.6,131.4 273.1,130.8 273.5,129.4 C274.0,128.1 274.5,126.4 275.0,124.9 C275.5,123.4 275.9,122.1 276.4,120.4 C276.9,118.8 277.4,117.1 277.9,115.0 C278.3,112.9 278.8,110.2 279.3,107.8 C279.8,105.4 280.3,103.0 280.7,100.6 C281.2,98.2 281.7,95.8 282.2,93.4 C282.7,91.0 283.1,88.6 283.6,86.2 C284.1,83.8 284.6,81.3 285.1,79.0 C285.5,76.8 286.0,74.0 286.5,72.7 C287.0,71.4 287.5,71.4 287.9,71.3 C288.4,71.2 288.9,71.5 289.4,72.2 C289.9,72.9 290.3,74.3 290.8,75.4 C291.3,76.6 291.8,78.1 292.3,79.0 C292.7,80.0 293.2,80.4 293.7,81.2 C294.2,81.9 294.7,82.1 295.1,83.5 C295.6,85.0 295.9,87.6 296.2,89.8 C296.6,92.1 296.9,94.3 297.3,97.0 C297.7,99.7 298.3,103.2 298.8,106.0 C299.2,108.9 299.8,112.3 300.2,114.1 C300.6,115.9 300.9,117.3 301.3,116.8 C301.6,116.4 302.0,113.2 302.4,111.4 C302.7,109.7 303.1,106.4 303.4,106.4 C303.7,106.4 303.9,108.2 304.2,111.4 C304.5,114.7 304.9,121.9 305.2,125.8 C305.6,129.7 306.0,132.6 306.3,134.8 C306.6,137.0 306.6,137.7 307.0,139.0 C307.5,140.3 308.3,140.2 308.8,142.6 C309.3,145.0 309.6,151.0 310.0,153.4 C310.4,155.8 311.1,154.9 311.4,157.0 C311.8,159.1 311.9,167.2 312.2,166.0 C312.5,164.8 312.9,153.7 313.2,149.8 C313.5,145.9 313.7,141.4 314.0,142.6 C314.2,143.8 314.4,152.2 314.7,157.0 C315.0,161.8 315.3,168.7 315.8,171.4 C316.2,174.1 316.7,172.6 317.2,173.2 C317.7,173.8 318.2,174.3 318.6,175.0 C319.1,175.8 319.6,176.2 320.1,177.7 C320.6,179.2 321.1,180.9 321.5,184.0 C321.9,187.2 322.2,190.6 322.6,196.6 C323.0,202.6 323.3,211.8 323.7,220.0 C324.0,228.3 324.4,247.6 324.8,246.1 C325.1,244.6 325.5,222.3 325.8,211.0 C326.2,199.8 326.6,185.2 326.9,178.6 C327.2,172.0 327.4,169.6 327.6,171.4 C327.9,173.2 328.1,183.7 328.4,189.4 C328.6,195.1 328.8,208.0 329.1,205.6 C329.3,203.2 329.6,184.0 329.8,175.0 C330.0,166.0 330.3,151.6 330.5,151.6 C330.8,151.6 330.9,165.1 331.2,175.0 C331.5,184.9 332.0,202.0 332.3,211.0 C332.7,220.0 333.0,232.0 333.4,229.0 C333.8,226.0 334.1,202.6 334.5,193.0 C334.8,183.4 335.2,175.8 335.6,171.4 C335.9,167.1 336.3,166.3 336.6,166.9 C336.9,167.5 337.1,176.7 337.4,175.0 C337.6,173.4 337.9,163.0 338.1,157.0 C338.3,151.0 338.4,144.8 338.4,139.0 C338.5,133.2 338.5,126.7 338.6,122.2 C338.7,117.8 338.8,112.3 339.0,112.3 C339.1,112.3 339.3,117.8 339.5,122.2 C339.8,126.7 340.2,130.2 340.6,139.0 C341.0,147.8 341.4,161.5 341.7,175.0 C342.0,188.5 342.2,207.5 342.4,220.0 C342.6,232.6 343.0,245.2 343.1,250.3" fill="none" stroke="#C80000" stroke-width="1.7" stroke-linejoin="round" stroke-linecap="round" clip-path="url(#ca)"/>
<path d="M77.6,230.8 C77.8,233.5 78.5,247.3 79.0,247.0 C79.5,246.7 80.0,228.4 80.4,229.0 C80.9,229.6 81.4,250.6 81.9,250.6 C82.4,250.6 82.9,229.2 83.3,229.0 C83.7,228.9 83.9,252.7 84.4,249.7 C84.9,246.7 85.6,220.5 86.2,211.0 C86.8,201.6 87.4,194.5 88.0,193.0 C88.6,191.5 89.2,199.0 89.8,202.0 C90.4,205.0 91.1,205.9 91.6,211.0 C92.1,216.1 92.6,226.3 93.0,232.6 C93.5,238.9 93.9,250.9 94.3,248.8 C94.7,246.7 95.1,229.3 95.6,220.0 C96.0,210.7 96.5,198.6 97.0,193.0 C97.5,187.4 98.0,178.0 98.5,186.6 C99.0,195.1 99.4,244.9 99.9,244.3 C100.3,243.6 100.7,185.3 101.3,182.8 C101.9,180.3 102.7,230.4 103.4,229.1 C104.1,227.9 104.9,175.9 105.6,175.4 C106.2,174.8 106.8,225.3 107.3,225.8 C107.9,226.3 108.5,180.2 109.1,178.3 C109.8,176.4 110.6,216.4 111.3,214.4 C112.1,212.4 113.0,167.6 113.5,166.2 C114.1,164.8 114.3,206.2 114.7,205.9 C115.2,205.5 115.9,164.3 116.4,164.2 C116.9,164.1 117.3,205.6 117.8,205.2 C118.3,204.9 119.0,167.6 119.4,161.9 C119.7,156.2 119.6,168.2 120.0,171.1 C120.4,174.0 121.1,179.3 121.6,179.3 C122.2,179.3 122.7,172.0 123.3,171.1 C123.8,170.3 124.3,172.8 124.9,174.4 C125.4,176.0 125.8,178.7 126.5,180.9 C127.2,183.1 128.1,187.1 128.9,187.4 C129.8,187.7 130.6,183.9 131.4,182.5 C132.2,181.2 133.0,176.8 133.8,179.3 C134.6,181.7 135.4,195.5 136.3,197.2 C137.1,198.8 137.9,191.7 138.7,189.0 C139.5,186.3 140.3,179.5 141.1,180.9 C142.0,182.2 142.8,198.2 143.6,197.2 C144.4,196.1 145.3,176.8 146.0,174.4 C146.7,172.0 147.1,180.9 147.6,182.5 C148.2,184.1 148.7,185.5 149.3,184.1 C149.8,182.8 150.4,176.3 150.9,174.4 C151.4,172.5 151.8,174.4 152.5,172.8 C153.2,171.1 154.3,164.9 155.0,164.6 C155.6,164.4 156.1,168.2 156.6,171.1 C157.0,174.1 157.3,183.3 157.7,182.5 C158.1,181.7 158.5,171.7 159.0,166.3 C159.5,160.8 159.9,154.5 160.7,150.0 C161.4,145.5 162.9,142.1 163.6,139.0 C164.4,135.8 164.6,133.6 165.1,131.2 C165.5,128.9 166.0,126.4 166.5,124.9 C167.0,123.4 167.5,122.2 167.9,122.2 C168.4,122.2 168.7,123.1 169.0,124.9 C169.4,126.7 169.7,130.9 170.1,133.0 C170.5,135.1 170.7,136.5 171.2,137.5 C171.7,138.5 172.4,136.4 173.0,139.0 C173.5,141.6 173.9,148.3 174.4,153.4 C175.0,158.5 175.6,165.6 176.2,169.6 C176.8,173.7 177.4,175.6 178.0,177.7 C178.6,179.8 179.2,182.7 179.8,182.2 C180.4,181.8 181.1,177.7 181.6,175.0 C182.2,172.3 182.6,166.8 183.1,166.0 C183.6,165.3 184.0,167.8 184.5,170.5 C185.0,173.2 185.4,177.9 186.0,182.2 C186.6,186.6 187.5,191.8 188.1,196.6 C188.7,201.4 189.0,206.2 189.5,211.0 C190.0,215.8 190.6,220.6 191.1,225.4 C191.6,230.2 192.1,236.2 192.5,239.8 C192.9,243.4 193.3,250.3 193.6,247.0 C193.9,243.7 194.1,230.5 194.3,220.0 C194.6,209.5 194.8,194.5 195.0,184.0 C195.3,173.5 195.6,163.5 195.9,157.0 C196.2,150.6 196.5,147.8 196.8,145.3 C197.1,142.8 197.4,141.9 197.7,142.2 C198.1,142.5 198.6,143.1 199.0,147.1 C199.4,151.1 199.7,158.4 200.1,166.0 C200.4,173.7 200.8,182.5 201.2,193.0 C201.5,203.5 201.9,219.5 202.2,229.0 C202.6,238.6 202.9,246.7 203.3,250.3 C203.7,253.8 204.3,253.8 204.8,250.3 C205.2,246.7 205.7,237.1 206.2,229.0 C206.7,221.0 207.4,211.0 208.0,202.0 C208.6,193.0 209.2,181.9 209.8,175.0 C210.4,168.1 211.0,163.5 211.6,160.6 C212.2,157.8 212.8,157.3 213.4,157.9 C214.0,158.5 214.6,161.4 215.2,164.2 C215.8,167.1 216.4,171.1 217.0,175.0 C217.6,178.9 218.2,183.7 218.8,187.6 C219.4,191.5 220.1,198.1 220.6,198.4 C221.1,198.7 221.6,187.3 222.0,189.4 C222.5,191.5 223.1,200.9 223.5,211.0 C223.9,221.2 224.1,250.3 224.6,250.3 C225.0,250.3 225.5,219.4 226.0,211.0 C226.6,202.7 227.2,200.2 227.8,200.2 C228.4,200.2 229.1,205.6 229.6,211.0 C230.2,216.4 230.6,226.1 231.1,232.6 C231.5,239.2 231.8,256.9 232.1,250.3 C232.5,243.7 232.7,207.7 233.2,193.0 C233.7,178.4 234.5,166.3 235.0,162.4 C235.6,158.5 236.0,170.2 236.5,169.6 C236.9,169.0 237.4,161.8 237.9,158.8 C238.4,155.8 239.1,153.0 239.7,151.6 C240.3,150.2 240.9,149.6 241.5,150.2 C242.1,150.8 242.8,151.1 243.3,155.2 C243.8,159.3 244.3,167.2 244.7,175.0 C245.2,182.8 245.7,193.6 246.2,202.0 C246.7,210.4 247.1,218.5 247.6,225.4 C248.2,232.3 248.8,239.6 249.4,243.4 C250.0,247.3 250.6,250.9 251.2,248.5 C251.8,246.1 252.4,235.9 253.0,229.0 C253.6,222.2 254.2,212.5 254.8,207.4 C255.5,202.3 256.3,202.0 257.0,198.4 C257.7,194.8 258.5,189.7 259.1,185.8 C259.8,181.9 260.4,177.3 260.9,175.0 C261.5,172.8 262.0,171.1 262.4,172.3 C262.8,173.5 263.1,178.2 263.5,182.2 C263.8,186.3 264.2,196.6 264.5,196.6 C264.9,196.6 265.2,187.9 265.6,182.2 C266.0,176.5 266.6,166.8 267.1,162.4 C267.5,158.1 268.1,155.5 268.5,156.1 C268.9,156.7 269.2,161.7 269.6,166.0 C270.0,170.4 270.5,178.0 271.0,182.2 C271.6,186.4 272.2,188.2 272.8,191.2 C273.4,194.2 274.0,197.5 274.6,200.2 C275.2,202.9 275.8,206.2 276.4,207.4 C277.0,208.7 277.6,209.0 278.2,207.8 C278.8,206.6 279.4,203.6 280.0,200.2 C280.6,196.9 281.2,190.8 281.8,187.6 C282.4,184.5 283.0,183.0 283.6,181.3 C284.2,179.7 284.9,177.0 285.4,177.7 C285.9,178.5 286.1,180.3 286.5,185.8 C286.9,191.4 287.3,201.6 287.6,211.0 C287.9,220.5 288.1,245.5 288.3,242.5 C288.5,239.5 288.8,205.8 289.0,193.0 C289.3,180.3 289.4,171.1 289.7,166.0 C290.0,160.9 290.3,162.7 290.8,162.4 C291.3,162.1 292.0,164.5 292.6,164.2 C293.2,163.9 293.8,161.7 294.4,160.6 C295.0,159.6 295.7,157.6 296.2,157.9 C296.8,158.2 297.2,160.8 297.7,162.4 C298.2,164.1 298.6,166.5 299.1,167.8 C299.7,169.2 300.3,170.4 300.9,170.5 C301.5,170.7 302.1,169.5 302.7,168.7 C303.3,168.0 303.9,167.1 304.5,166.0 C305.1,165.0 305.7,164.2 306.3,162.4 C306.9,160.6 307.6,157.6 308.1,155.2 C308.7,152.8 309.1,150.1 309.6,148.0 C310.0,145.9 310.6,144.5 311.0,142.6 C311.4,140.7 311.5,138.5 311.7,136.6 C312.0,134.7 312.0,133.6 312.4,131.2 C312.9,128.8 313.6,125.5 314.2,122.2 C314.8,118.9 315.4,114.7 316.0,111.4 C316.6,108.1 317.2,105.0 317.8,102.4 C318.5,99.9 319.5,99.1 320.0,96.1 C320.5,93.1 320.4,87.4 320.8,84.4 C321.2,81.4 322.0,79.6 322.6,78.1 C323.2,76.6 323.8,76.0 324.4,75.4 C325.0,74.8 325.6,74.5 326.2,74.3 C326.8,74.2 327.4,74.2 328.0,74.5 C328.6,74.8 329.2,75.3 329.8,76.3 C330.4,77.4 331.0,78.9 331.6,80.8 C332.2,82.8 332.8,85.6 333.4,88.0 C334.0,90.4 334.6,93.0 335.2,95.2 C335.8,97.5 336.5,100.0 337.0,101.5 C337.5,103.0 338.0,104.1 338.4,104.2 C338.9,104.4 339.4,102.8 339.9,102.4 C340.4,102.1 340.9,101.5 341.3,102.1 C341.7,102.7 342.0,103.9 342.4,106.0 C342.8,108.2 343.4,112.0 343.8,115.0 C344.3,118.0 344.8,121.3 345.3,124.0 C345.8,126.7 346.3,129.4 346.7,131.2 C347.2,133.0 347.6,134.1 348.2,134.8 C348.7,135.6 349.4,135.8 350.0,135.7 C350.6,135.7 351.2,134.5 351.8,134.5 C352.3,134.5 352.7,135.0 353.2,135.7 C353.7,136.5 354.2,136.7 354.7,139.0 C355.1,141.3 355.6,145.3 356.1,149.8 C356.6,154.3 357.1,160.6 357.5,166.0 C358.0,171.4 358.5,177.1 359.0,182.2 C359.5,187.3 359.9,192.7 360.4,196.6 C360.9,200.5 361.4,203.8 361.9,205.6 C362.3,207.5 362.8,207.8 363.3,207.8 C363.8,207.8 364.3,206.9 364.7,205.6 C365.2,204.4 365.7,202.0 366.2,200.2 C366.7,198.4 367.1,196.3 367.6,194.8 C368.1,193.4 368.6,192.2 369.1,191.6 C369.5,191.0 370.0,190.4 370.5,191.2 C371.0,192.1 371.5,193.9 371.9,196.6 C372.4,199.3 372.7,203.8 373.0,207.4 C373.4,211.0 373.7,215.5 374.1,218.2 C374.5,220.9 374.8,223.0 375.2,223.6 C375.5,224.2 375.9,224.5 376.3,221.8 C376.6,219.1 377.0,212.8 377.3,207.4 C377.7,202.0 378.1,194.1 378.4,189.4 C378.8,184.8 379.1,181.0 379.5,179.5 C379.9,178.0 380.2,178.8 380.6,180.4 C380.9,182.1 381.2,186.1 381.7,189.4 C382.1,192.7 382.6,197.4 383.1,200.2 C383.6,203.1 384.1,205.4 384.5,206.5 C385.0,207.7 385.5,208.1 386.0,207.1 C386.5,206.0 386.9,204.4 387.4,200.2 C387.9,196.1 388.4,188.5 388.9,182.2 C389.3,175.9 389.9,167.2 390.3,162.4 C390.7,157.6 391.0,155.3 391.4,153.4 C391.7,151.5 392.0,151.1 392.5,151.2 C392.9,151.4 393.4,152.7 393.9,154.3 C394.4,155.9 394.9,158.4 395.3,160.6 C395.8,162.9 396.3,165.1 396.8,167.8 C397.3,170.5 397.7,173.5 398.2,176.8 C398.7,180.1 399.2,184.0 399.7,187.6 C400.1,191.2 400.6,195.0 401.1,198.4 C401.6,201.9 402.1,205.9 402.5,208.3 C403.0,210.8 403.6,212.3 404.0,213.2 C404.4,214.1 404.7,215.0 405.1,213.7 C405.4,212.5 405.8,208.5 406.1,205.6 C406.5,202.8 406.9,198.2 407.2,196.6 C407.5,195.1 407.7,194.5 407.9,196.3 C408.2,198.1 408.4,202.6 408.7,207.4 C409.0,212.3 409.4,220.5 409.7,225.4 C410.1,230.4 410.4,234.7 410.8,237.1 C411.2,239.6 411.8,240.0 412.3,240.2 C412.7,240.3 413.2,239.9 413.7,238.0 C414.2,236.2 414.7,232.9 415.1,229.0 C415.6,225.1 415.9,218.5 416.2,214.6 C416.6,210.8 417.0,207.5 417.3,206.0 C417.6,204.4 417.8,204.4 418.0,205.3 C418.3,206.1 418.5,207.7 418.8,211.0 C419.1,214.4 419.5,220.3 419.8,225.4 C420.2,230.5 420.6,237.5 420.9,241.6 C421.2,245.8 421.5,248.8 421.6,250.3" fill="none" stroke="#002060" stroke-width="1.7" stroke-linejoin="round" stroke-linecap="round" clip-path="url(#ca)"/>
<path d="M77.2,140.2 C77.4,140.5 78.2,141.8 78.6,141.7 C79.1,141.6 79.5,141.1 79.9,139.9 C80.3,138.7 80.8,135.6 81.2,134.5 C81.6,133.3 81.9,132.3 82.2,133.0 C82.5,133.8 82.8,135.6 83.0,139.0 C83.2,142.4 83.2,149.5 83.5,153.4 C83.8,157.3 84.3,159.1 84.8,162.4 C85.2,165.7 85.7,169.9 86.2,173.2 C86.7,176.5 87.2,179.8 87.6,182.2 C88.1,184.6 88.6,186.1 89.1,187.6 C89.6,189.1 90.0,190.8 90.5,191.2 C91.0,191.7 91.5,191.2 92.0,190.3 C92.4,189.4 92.7,186.0 93.0,185.8 C93.4,185.7 93.8,189.7 94.1,189.4 C94.5,189.1 94.8,186.4 95.2,184.0 C95.6,181.6 96.0,175.6 96.3,175.0 C96.6,174.4 96.7,178.6 97.0,180.4 C97.3,182.2 97.7,187.3 98.1,185.8 C98.4,184.3 98.8,176.2 99.2,171.4 C99.5,166.6 99.9,159.7 100.2,157.0 C100.6,154.3 101.0,156.4 101.3,155.2 C101.7,154.0 102.0,152.5 102.4,149.8 C102.8,147.1 103.2,141.8 103.5,139.0 C103.8,136.2 103.9,135.8 104.2,133.0 C104.5,130.2 104.9,127.0 105.3,122.2 C105.6,117.4 106.0,109.3 106.4,104.2 C106.7,99.1 107.1,95.2 107.5,91.6 C107.8,88.0 108.2,84.4 108.5,82.6 C108.8,80.8 109.0,80.5 109.3,80.8 C109.5,81.1 109.7,81.7 110.0,84.4 C110.3,87.1 110.7,93.1 111.1,97.0 C111.4,100.9 111.8,103.6 112.1,107.8 C112.5,112.0 112.9,117.7 113.2,122.2 C113.6,126.7 114.0,132.0 114.3,134.8 C114.6,137.6 114.8,136.2 115.0,139.0 C115.3,141.8 115.5,147.4 115.7,151.6 C116.0,155.8 116.2,159.4 116.5,164.2 C116.8,169.0 117.1,175.3 117.5,180.4 C118.0,185.5 118.5,190.6 119.0,194.8 C119.5,199.0 119.9,202.8 120.4,205.6 C120.9,208.5 121.4,210.4 121.9,211.9 C122.3,213.4 122.8,213.6 123.3,214.6 C123.8,215.7 124.3,216.1 124.7,218.2 C125.2,220.3 125.5,224.5 125.8,227.2 C126.2,229.9 126.5,234.1 126.9,234.4 C127.3,234.7 127.6,231.7 128.0,229.0 C128.3,226.3 128.7,220.3 129.1,218.2 C129.4,216.1 129.7,214.6 130.0,216.4 C130.2,218.2 130.3,223.3 130.5,229.0 C130.6,234.7 130.8,247.0 130.9,250.6" fill="none" stroke="#000000" stroke-width="1.7" stroke-linejoin="round" stroke-linecap="round" clip-path="url(#ca)"/>
<path d="M79.0,431.0 C79.9,430.7 82.5,429.6 84.4,429.2 C86.4,428.9 89.2,428.4 90.7,428.9 C92.2,429.3 92.1,431.3 93.4,431.9 C94.8,432.6 96.7,433.1 98.8,432.8 C100.9,432.5 103.6,430.8 106.0,430.1 C108.4,429.5 110.8,429.0 113.2,428.9 C115.6,428.7 118.3,428.9 120.4,429.2 C122.5,429.6 123.7,430.5 125.8,431.0 C127.9,431.5 130.3,432.3 133.0,432.3 C135.7,432.3 139.0,431.8 142.0,431.0 C145.0,430.2 148.0,428.5 151.0,427.4 C154.0,426.4 157.0,425.2 160.0,424.7 C163.0,424.2 166.0,424.3 169.0,424.4 C172.0,424.5 175.0,425.1 178.0,425.3 C181.0,425.5 184.0,425.7 187.0,425.6 C190.0,425.6 193.7,425.1 196.0,424.9 C198.3,424.8 198.8,424.7 200.8,424.7 C202.8,424.8 205.3,424.9 208.0,425.3 C210.7,425.7 214.0,426.5 217.0,427.1 C220.0,427.7 223.0,428.4 226.0,428.9 C229.0,429.4 232.0,430.0 235.0,430.1 C238.0,430.3 241.3,430.0 244.0,429.8 C246.7,429.6 248.8,429.0 251.2,428.9 C253.6,428.8 256.0,428.7 258.4,429.2 C260.8,429.7 263.2,430.7 265.6,431.9 C268.0,433.1 270.4,434.9 272.8,436.4 C275.2,437.9 277.6,439.8 280.0,440.9 C282.4,442.1 284.8,442.8 287.2,443.3 C289.6,443.7 292.0,443.8 294.4,443.6 C296.8,443.4 299.2,442.6 301.6,442.2 C304.0,441.8 306.4,441.3 308.8,441.3 C311.2,441.3 314.2,441.8 316.0,442.2 C317.9,442.6 318.5,443.1 319.9,443.6 C321.3,444.2 322.5,444.7 324.4,445.4 C326.4,446.2 329.2,447.3 331.6,448.1 C334.0,449.0 336.4,449.7 338.8,450.5 C341.2,451.3 343.6,452.3 346.0,453.0 C348.4,453.7 350.8,454.2 353.2,454.8 C355.6,455.3 358.0,455.9 360.4,456.2 C362.8,456.5 365.2,456.3 367.6,456.6 C370.0,456.9 372.4,457.4 374.8,458.0 C377.2,458.6 379.9,459.4 382.0,460.2 C384.1,460.9 385.0,461.1 387.4,462.5 C389.8,463.9 393.7,466.6 396.4,468.5 C399.1,470.4 401.2,472.0 403.6,473.9 C406.0,475.9 408.7,478.3 410.8,480.2 C412.9,482.2 414.4,483.1 416.2,485.6 C418.0,488.2 419.8,491.6 421.6,495.5 C423.4,499.4 425.2,504.4 427.0,509.0 C428.8,513.7 430.9,519.5 432.4,523.4 C433.9,527.3 434.8,529.1 436.0,532.4 C437.2,535.7 438.4,539.9 439.6,543.2 C440.8,546.5 442.0,549.5 443.2,552.2 C444.4,554.9 445.6,557.0 446.8,559.4 C448.1,561.8 450.1,565.4 450.8,566.6" fill="none" stroke="#CCCC00" stroke-width="1.7" stroke-linejoin="round" stroke-linecap="butt" clip-path="url(#cb)" stroke-dasharray="5.8 5"/>
<path d="M77.2,519.8 C77.4,519.2 77.9,518.2 78.3,516.2 C78.6,514.3 79.1,509.6 79.4,508.1 C79.7,506.6 79.8,505.6 80.1,507.2 C80.3,508.9 80.5,513.5 80.8,518.0 C81.1,522.5 81.6,535.4 81.9,534.2 C82.2,533.0 82.4,516.7 82.6,510.8 C82.8,505.0 83.1,499.1 83.3,499.1 C83.6,499.1 83.7,507.1 84.0,510.8 C84.3,514.6 84.8,522.5 85.1,521.6 C85.5,520.7 85.8,511.1 86.2,505.4 C86.6,499.7 86.9,491.6 87.3,487.4 C87.6,483.2 88.0,481.5 88.4,480.2 C88.7,478.9 89.1,479.2 89.4,479.8 C89.8,480.4 90.2,481.0 90.5,483.8 C90.9,486.6 91.2,491.9 91.6,496.4 C92.0,500.9 92.3,506.7 92.7,510.8 C93.0,515.0 93.5,521.6 93.8,521.3 C94.1,521.0 94.2,515.0 94.5,509.0 C94.8,503.1 95.2,491.2 95.6,485.6 C95.9,480.1 96.2,475.4 96.5,475.7 C96.8,476.0 97.1,483.4 97.4,487.4 C97.7,491.5 98.0,500.3 98.3,500.0 C98.6,499.7 98.9,490.3 99.2,485.6 C99.5,481.0 99.8,474.5 100.1,472.1 C100.4,469.7 100.7,469.0 101.0,471.2 C101.2,473.5 101.4,480.4 101.7,485.6 C101.9,490.9 102.2,503.3 102.4,502.7 C102.6,502.1 102.9,488.2 103.1,482.0 C103.3,475.9 103.5,469.0 103.7,465.8 C103.8,462.6 103.9,464.0 104.2,462.5 C104.5,461.1 104.9,457.3 105.3,457.1 C105.7,457.0 106.1,461.5 106.6,461.6 C107.0,461.8 107.4,459.5 107.8,458.0 C108.2,456.5 108.5,452.6 108.9,452.6 C109.3,452.6 109.6,458.9 110.0,458.0 C110.3,457.1 110.7,449.3 111.1,447.2 C111.4,445.1 111.8,445.2 112.1,445.4 C112.5,445.7 112.8,449.0 113.2,448.7 C113.6,448.4 114.2,445.2 114.7,443.6 C115.1,442.0 115.5,439.0 115.9,439.1 C116.3,439.3 116.7,444.2 117.2,444.5 C117.6,444.8 118.1,441.7 118.6,440.9 C119.1,440.1 119.6,439.5 120.1,439.7 C120.5,439.8 120.8,442.2 121.3,441.8 C121.8,441.4 122.4,439.4 123.1,437.3 C123.9,435.2 124.9,431.8 125.8,429.2 C126.7,426.7 127.6,424.3 128.5,422.0 C129.4,419.8 130.6,416.9 131.2,415.7 C131.9,414.6 132.1,414.6 132.5,415.2 C132.8,415.8 133.0,419.4 133.4,419.3 C133.8,419.3 134.1,416.8 134.8,414.8 C135.5,412.9 136.6,410.6 137.5,407.6 C138.4,404.6 139.3,400.7 140.2,396.8 C141.1,392.9 142.2,387.4 142.9,384.2 C143.7,381.1 144.2,379.2 144.7,377.9 C145.3,376.6 145.7,376.5 146.2,376.6 C146.7,376.8 147.3,377.2 147.8,378.8 C148.3,380.4 148.7,382.7 149.2,386.0 C149.8,389.3 150.4,394.4 151.0,398.6 C151.6,402.8 152.2,407.5 152.8,411.2 C153.5,415.0 154.4,419.2 155.0,421.1 C155.5,423.1 155.7,421.3 156.1,422.9 C156.5,424.6 156.8,427.0 157.3,431.0 C157.8,435.1 158.5,442.7 159.1,447.2 C159.7,451.7 160.4,457.4 160.9,458.0 C161.4,458.6 161.7,455.3 162.2,450.8 C162.6,446.3 163.2,434.8 163.6,431.0 C164.0,427.3 164.2,427.7 164.5,428.3 C164.9,428.9 165.3,430.9 165.8,434.6 C166.2,438.4 166.7,446.3 167.2,450.8 C167.7,455.3 168.2,460.4 168.7,461.6 C169.1,462.8 169.6,460.4 170.1,458.0 C170.6,455.6 171.2,450.5 171.7,447.2 C172.3,443.9 173.0,440.0 173.5,438.2 C174.0,436.4 174.3,435.2 174.8,436.4 C175.2,437.6 175.7,441.5 176.2,445.4 C176.8,449.3 177.4,458.9 178.0,459.8 C178.6,460.7 179.2,454.1 179.8,450.8 C180.4,447.5 180.7,444.8 181.6,440.0 C182.5,435.2 184.2,426.5 185.2,422.0 C186.3,417.5 187.1,416.3 187.9,413.0 C188.7,409.7 189.4,406.1 190.0,402.2 C190.6,398.3 191.1,394.4 191.8,389.6 C192.6,384.8 193.6,377.5 194.5,373.4 C195.4,369.4 196.2,367.2 197.2,365.3 C198.2,363.4 199.5,362.2 200.4,362.2 C201.3,362.2 201.8,363.4 202.6,365.3 C203.4,367.2 204.4,370.0 205.3,373.4 C206.2,376.9 207.3,381.8 208.0,386.0 C208.8,390.2 209.2,394.4 209.8,398.6 C210.4,402.8 211.0,407.6 211.6,411.2 C212.2,414.8 212.8,417.8 213.4,420.2 C214.0,422.6 214.7,423.5 215.2,425.6 C215.7,427.7 216.2,430.7 216.6,432.8 C217.1,435.0 217.5,439.2 217.9,438.6 C218.3,438.0 218.8,432.1 219.2,429.2 C219.6,426.3 219.9,422.8 220.2,421.1 C220.6,419.5 220.8,418.6 221.1,419.3 C221.4,420.1 221.7,422.8 222.0,425.6 C222.4,428.5 222.8,432.8 223.1,436.4 C223.5,440.0 223.8,444.1 224.2,447.2 C224.6,450.4 224.9,453.5 225.3,455.3 C225.6,457.1 226.0,457.4 226.4,458.0 C226.7,458.6 227.2,457.3 227.5,458.9 C227.7,460.5 227.7,464.4 227.8,467.6 C227.9,470.8 227.9,473.3 228.2,478.4 C228.5,483.5 229.1,495.5 229.6,498.2 C230.1,500.9 230.6,496.7 231.1,494.6 C231.5,492.5 231.7,489.2 232.3,485.6 C233.0,482.0 234.3,476.5 235.0,473.0 C235.8,469.6 236.4,466.9 236.8,464.9 C237.2,462.9 237.2,462.8 237.5,460.7 C237.8,458.7 238.1,455.8 238.6,452.6 C239.1,449.5 239.9,444.1 240.4,441.8 C241.0,439.6 241.4,438.8 241.9,439.1 C242.3,439.4 242.7,441.1 243.1,443.6 C243.5,446.2 243.9,451.4 244.4,454.4 C244.8,457.4 245.3,460.0 245.8,461.6 C246.3,463.2 246.8,460.6 247.3,464.0 C247.7,467.4 248.0,476.0 248.5,482.0 C249.0,488.0 249.7,494.3 250.3,500.0 C250.9,505.7 251.5,510.8 252.1,516.2 C252.7,521.6 253.4,528.7 253.9,532.4 C254.4,536.2 254.8,538.7 255.2,538.7 C255.6,538.7 255.9,535.9 256.3,532.4 C256.6,529.0 257.1,522.8 257.5,518.0 C257.9,513.2 258.3,508.4 258.8,503.6 C259.3,498.8 260.0,493.1 260.6,489.2 C261.2,485.3 261.8,482.6 262.4,480.2 C262.9,477.8 263.3,476.6 263.8,474.8 C264.4,473.0 265.0,470.2 265.6,469.4 C266.3,468.7 267.2,471.1 267.8,470.3 C268.3,469.6 268.5,466.3 268.9,464.9 C269.3,463.5 269.7,462.1 270.1,462.0 C270.5,461.8 270.9,462.2 271.4,464.0 C271.8,465.8 272.3,469.7 272.8,473.0 C273.4,476.3 274.0,480.4 274.6,483.8 C275.2,487.3 275.9,491.8 276.4,493.7 C277.0,495.7 277.4,496.0 277.9,495.5 C278.3,495.1 278.7,493.9 279.1,491.0 C279.5,488.2 280.0,482.6 280.4,478.4 C280.7,474.2 281.0,469.2 281.3,465.8 C281.5,462.4 281.6,461.1 281.8,458.0 C282.0,454.9 282.2,451.3 282.5,447.2 C282.8,443.2 283.3,433.7 283.6,433.7 C284.0,433.7 284.4,442.9 284.7,447.2 C285.0,451.6 285.1,455.2 285.2,459.8 C285.4,464.4 285.5,469.6 285.6,474.8 C285.7,480.0 285.8,482.5 286.0,491.0 C286.2,499.6 286.5,521.6 286.9,526.1 C287.2,530.6 287.7,519.8 288.1,518.0 C288.5,516.2 288.9,515.3 289.4,515.3 C289.8,515.3 290.3,516.8 290.8,518.0 C291.3,519.2 291.8,522.8 292.3,522.5 C292.7,522.2 293.0,519.4 293.5,516.2 C294.0,513.1 294.7,507.5 295.3,503.6 C295.9,499.7 296.5,495.7 297.1,492.8 C297.7,490.0 298.4,487.4 298.9,486.5 C299.4,485.6 299.7,486.7 300.2,487.4 C300.6,488.2 301.1,491.6 301.6,491.0 C302.2,490.4 302.8,485.3 303.4,483.8 C304.0,482.3 304.6,482.0 305.2,482.0 C305.8,482.0 306.4,482.5 307.0,483.8 C307.6,485.2 308.3,489.5 308.8,490.1 C309.3,490.7 309.6,487.3 310.0,487.4 C310.4,487.6 311.0,491.3 311.4,491.0 C311.9,490.7 312.5,488.6 312.9,485.6 C313.3,482.6 313.7,476.6 314.0,473.0 C314.3,469.4 314.3,468.4 314.7,464.0 C315.1,459.6 315.8,446.4 316.2,446.4 C316.6,446.4 316.9,459.6 317.2,464.0 C317.6,468.4 317.9,470.3 318.3,473.0 C318.7,475.7 319.2,478.7 319.7,480.2 C320.2,481.7 320.7,482.6 321.2,482.0 C321.6,481.4 321.9,479.0 322.2,476.6 C322.6,474.2 323.0,469.8 323.3,467.6 C323.6,465.4 323.7,464.4 324.0,463.4 C324.4,462.5 324.9,462.9 325.3,462.0 C325.7,461.1 326.1,459.2 326.6,458.0 C327.0,456.8 327.5,455.4 328.0,454.8 C328.5,454.1 329.3,454.1 329.8,454.1 C330.3,454.1 330.8,454.1 331.2,454.8 C331.7,455.4 332.0,456.5 332.3,458.0 C332.7,459.6 333.1,460.0 333.4,464.0 C333.7,468.0 334.0,475.1 334.3,482.0 C334.6,488.9 334.9,498.2 335.2,505.4 C335.5,512.6 336.0,524.3 336.3,525.2 C336.6,526.1 336.7,515.6 337.0,510.8 C337.3,506.0 337.8,497.3 338.1,496.4 C338.4,495.5 338.5,503.0 338.8,505.4 C339.1,507.8 339.5,510.8 339.9,510.8 C340.2,510.8 340.5,508.7 341.0,505.4 C341.4,502.1 341.9,495.8 342.4,491.0 C342.9,486.2 343.7,480.8 344.2,476.6 C344.7,472.4 345.3,468.3 345.6,465.8 C346.0,463.3 346.1,463.5 346.4,461.6 C346.7,459.7 347.0,457.1 347.5,454.4 C347.9,451.7 348.4,448.0 348.9,445.4 C349.4,442.9 349.9,440.6 350.3,439.1 C350.8,437.6 351.3,436.8 351.8,436.4 C352.3,436.1 352.7,437.0 353.2,437.0 C353.7,436.9 354.2,436.4 354.7,436.1 C355.1,435.8 355.6,435.1 356.1,435.2 C356.6,435.2 357.1,435.6 357.5,436.4 C358.0,437.2 358.5,438.7 359.0,440.0 C359.5,441.4 359.9,443.0 360.4,444.5 C361.0,446.0 361.6,447.7 362.2,449.0 C362.8,450.4 363.4,451.7 364.0,452.6 C364.6,453.5 365.3,454.3 365.8,454.4 C366.4,454.6 366.8,454.3 367.3,453.5 C367.7,452.8 368.0,451.6 368.3,449.9 C368.7,448.3 369.0,445.3 369.4,443.6 C369.8,441.9 370.4,439.7 370.9,439.7 C371.3,439.7 371.5,443.3 371.9,443.6 C372.4,444.0 372.8,442.6 373.4,441.8 C373.9,441.1 374.6,439.9 375.2,439.1 C375.8,438.4 376.3,437.9 377.0,437.3 C377.7,436.7 378.5,436.1 379.3,435.5 C380.1,434.9 381.0,434.6 381.7,433.7 C382.3,432.8 382.6,431.8 383.1,430.1 C383.6,428.5 384.1,425.6 384.5,423.8 C385.0,422.0 385.4,420.5 386.0,419.3 C386.5,418.1 387.1,417.4 387.8,416.6 C388.5,415.8 389.3,415.0 390.1,414.5 C390.9,413.9 391.7,413.6 392.5,413.4 C393.2,413.1 393.9,413.3 394.6,413.0 C395.3,412.7 396.1,412.2 396.8,411.6 C397.4,411.0 398.0,410.3 398.6,409.4 C399.1,408.5 399.5,407.0 400.0,406.2 C400.6,405.3 401.2,404.7 401.8,404.4 C402.4,404.0 403.0,404.2 403.6,404.0 C404.2,403.9 404.8,403.7 405.4,403.5 C406.1,403.3 407.0,402.7 407.6,402.8 C408.2,402.8 408.6,403.4 409.0,404.0 C409.4,404.7 409.7,406.2 410.1,406.7 C410.5,407.3 410.8,407.7 411.2,407.3 C411.5,406.8 411.9,404.9 412.3,404.0 C412.7,403.1 413.1,402.2 413.5,401.7 C414.0,401.1 414.5,400.8 415.0,400.8 C415.5,400.8 416.1,401.1 416.6,401.7 C417.1,402.2 417.5,403.0 418.0,404.0 C418.6,405.0 419.2,406.4 419.8,407.6 C420.4,408.8 421.1,410.2 421.6,411.2 C422.2,412.3 422.7,412.7 423.1,413.9 C423.5,415.1 423.8,416.5 424.2,418.4 C424.5,420.4 424.8,422.9 425.2,425.6 C425.7,428.3 426.2,431.6 426.7,434.6 C427.2,437.6 427.6,440.6 428.1,443.6 C428.6,446.6 429.1,449.7 429.6,452.6 C430.0,455.5 430.3,457.6 431.0,461.0 C431.6,464.4 432.6,468.6 433.3,473.0 C434.0,477.4 434.6,483.4 435.1,487.4 C435.6,491.4 436.1,496.9 436.6,496.9 C437.0,496.9 437.4,491.1 437.8,487.4 C438.2,483.7 438.5,477.5 438.9,474.8 C439.3,472.1 439.6,471.2 440.0,471.2 C440.3,471.2 440.7,471.5 441.1,474.8 C441.4,478.1 441.8,483.8 442.1,491.0 C442.5,498.2 442.9,509.9 443.2,518.0 C443.6,526.1 443.9,533.0 444.3,539.6 C444.7,546.2 445.0,553.0 445.4,557.6 C445.7,562.3 446.1,566.9 446.5,567.5 C446.8,568.1 447.2,564.1 447.5,561.2 C447.9,558.4 448.3,553.7 448.6,550.4 C449.0,547.1 449.3,544.0 449.7,541.4 C450.1,538.9 450.6,536.2 450.8,535.1" fill="none" stroke="#00B050" stroke-width="1.7" stroke-linejoin="round" stroke-linecap="round" clip-path="url(#cb)"/>
<path d="M76.8,509.0 C77.0,510.2 77.2,513.8 77.6,516.2 C77.9,518.6 78.5,521.9 79.0,523.4 C79.5,525.0 80.0,525.4 80.4,525.6 C80.9,525.7 81.4,525.3 81.9,524.3 C82.4,523.4 82.9,522.1 83.5,519.8 C84.1,517.6 84.7,514.4 85.3,510.8 C85.9,507.2 86.5,501.8 87.1,498.2 C87.7,494.6 88.3,491.3 88.9,489.2 C89.5,487.1 90.1,486.1 90.7,485.6 C91.3,485.2 91.9,485.9 92.5,486.5 C93.1,487.1 93.7,488.4 94.3,489.2 C94.9,490.0 95.5,490.9 96.1,491.4 C96.7,491.8 97.3,492.4 97.9,491.9 C98.5,491.4 99.1,490.0 99.7,488.3 C100.3,486.7 100.9,484.3 101.5,482.0 C102.1,479.8 102.7,477.1 103.3,474.8 C103.9,472.6 104.6,470.7 105.1,468.5 C105.6,466.3 106.0,464.0 106.6,461.6 C107.2,459.3 107.6,456.7 108.7,454.4 C109.8,452.2 111.6,449.9 113.2,448.1 C114.9,446.3 117.0,445.3 118.6,443.6 C120.3,442.0 121.8,440.9 123.1,438.2 C124.5,435.5 125.5,431.6 126.7,427.4 C127.9,423.2 129.3,417.8 130.3,413.0 C131.4,408.2 132.3,402.2 133.0,398.6 C133.8,395.0 134.3,392.9 134.8,391.4 C135.4,389.9 135.7,389.5 136.3,389.6 C136.8,389.8 137.4,390.2 138.1,392.3 C138.7,394.4 139.6,398.8 140.2,402.2 C140.9,405.7 141.3,408.8 142.0,413.0 C142.8,417.2 143.8,423.1 144.7,427.4 C145.6,431.8 146.4,435.7 147.4,439.1 C148.5,442.6 149.8,445.6 151.0,448.1 C152.2,450.7 153.4,452.6 154.6,454.4 C155.8,456.2 157.3,458.0 158.2,458.9 C159.1,459.8 159.3,460.0 160.0,459.8 C160.8,459.7 161.7,459.2 162.7,458.0 C163.8,456.8 165.0,455.6 166.3,452.6 C167.7,449.6 169.5,445.1 170.8,440.0 C172.2,434.9 173.2,428.3 174.4,422.0 C175.6,415.7 176.8,409.1 178.0,402.2 C179.2,395.3 180.6,386.5 181.6,380.6 C182.7,374.8 183.5,370.1 184.3,367.1 C185.2,364.1 185.9,362.9 186.7,362.6 C187.4,362.3 188.3,364.4 188.8,365.3 C189.4,366.2 189.5,365.5 190.0,368.0 C190.5,370.6 191.1,376.1 191.8,380.6 C192.6,385.1 193.6,390.2 194.5,395.0 C195.4,399.8 196.3,404.0 197.2,409.4 C198.1,414.8 199.0,421.4 199.9,427.4 C200.8,433.4 201.7,439.6 202.6,445.4 C203.5,451.3 204.5,458.7 205.1,462.5 C205.7,466.4 205.9,466.8 206.2,468.5 C206.5,470.2 206.6,471.1 207.1,473.0 C207.6,475.0 208.7,479.5 209.4,480.2 C210.2,481.0 210.9,479.0 211.6,477.5 C212.3,476.0 213.0,472.6 213.8,471.2 C214.5,469.8 215.4,468.7 216.1,469.0 C216.8,469.3 217.3,470.5 217.9,473.0 C218.5,475.5 219.1,479.9 219.7,483.8 C220.3,487.7 220.9,492.7 221.5,496.4 C222.1,500.2 222.7,503.8 223.3,506.3 C223.9,508.9 224.5,510.5 225.1,511.7 C225.7,512.9 226.3,514.0 226.9,513.5 C227.5,513.1 228.1,511.6 228.7,509.0 C229.3,506.5 229.9,502.1 230.5,498.2 C231.1,494.3 231.7,489.5 232.3,485.6 C232.9,481.7 233.5,477.5 234.1,474.8 C234.7,472.1 235.3,470.0 235.9,469.4 C236.5,468.8 237.1,469.7 237.7,471.2 C238.3,472.7 238.9,475.6 239.5,478.4 C240.1,481.3 240.7,485.3 241.3,488.3 C241.9,491.3 242.5,494.9 243.1,496.4 C243.7,497.9 244.3,497.2 244.9,497.3 C245.5,497.4 246.1,496.0 246.7,496.9 C247.3,497.8 247.9,500.7 248.5,502.7 C249.1,504.7 249.7,506.9 250.3,509.0 C250.9,511.1 251.5,513.4 252.1,515.3 C252.7,517.3 253.3,519.5 253.9,520.7 C254.5,521.9 255.1,523.0 255.7,522.5 C256.3,522.1 256.9,520.9 257.5,518.0 C258.1,515.2 258.7,509.9 259.3,505.4 C259.9,500.9 260.5,495.8 261.1,491.0 C261.7,486.2 262.3,480.5 262.9,476.6 C263.5,472.7 264.1,470.1 264.7,467.6 C265.3,465.1 265.9,461.5 266.5,461.8 C267.1,462.1 267.7,466.0 268.3,469.4 C268.9,472.8 269.5,477.5 270.1,482.0 C270.7,486.5 271.3,492.2 271.9,496.4 C272.5,500.6 273.1,504.2 273.7,507.2 C274.3,510.2 274.9,512.6 275.5,514.4 C276.1,516.2 276.7,517.7 277.3,518.0 C277.9,518.3 278.5,517.3 279.1,516.2 C279.7,515.2 280.3,512.9 280.9,511.7 C281.5,510.5 282.1,508.9 282.7,509.0 C283.3,509.2 283.9,512.3 284.5,512.6 C285.1,512.9 285.7,511.6 286.3,510.8 C286.9,510.1 287.5,508.4 288.1,508.1 C288.7,507.8 289.3,508.4 289.9,509.0 C290.5,509.6 291.1,510.7 291.7,511.7 C292.3,512.7 292.9,514.7 293.5,515.0 C294.1,515.3 294.7,514.5 295.3,513.5 C295.9,512.5 296.5,511.6 297.1,509.0 C297.7,506.5 298.3,501.5 298.9,498.2 C299.5,494.9 300.1,491.9 300.7,489.2 C301.3,486.5 301.9,484.1 302.5,482.0 C303.1,479.9 303.7,478.0 304.3,476.6 C304.9,475.3 305.5,474.5 306.1,473.9 C306.7,473.3 307.3,472.7 307.9,473.0 C308.6,473.3 309.4,474.5 310.0,475.7 C310.6,476.9 311.0,478.6 311.4,480.2 C311.9,481.9 312.4,484.0 312.9,485.6 C313.4,487.3 313.8,489.2 314.3,490.1 C314.8,491.0 315.3,491.2 315.8,491.0 C316.2,490.9 316.7,489.2 317.2,489.2 C317.7,489.2 318.2,490.0 318.6,491.0 C319.1,492.1 319.6,494.2 320.1,495.5 C320.6,496.9 321.0,498.8 321.5,499.1 C322.0,499.4 322.5,498.2 323.0,497.3 C323.4,496.4 323.9,494.9 324.4,493.7 C324.9,492.5 325.6,491.5 326.2,490.1 C326.8,488.8 327.5,487.6 328.0,485.6 C328.5,483.7 329.1,481.1 329.4,478.4 C329.8,475.7 330.0,473.7 330.3,469.4 C330.6,465.1 330.9,456.9 331.2,452.6 C331.6,448.3 332.0,446.2 332.5,443.6 C333.0,441.1 333.7,438.6 334.3,437.3 C334.9,436.1 335.5,436.1 336.1,436.1 C336.7,436.1 337.3,436.5 337.9,437.3 C338.5,438.1 339.1,439.7 339.7,440.9 C340.3,442.1 340.9,443.5 341.5,444.5 C342.1,445.6 342.7,446.4 343.3,447.2 C343.9,448.1 344.5,449.1 345.1,449.6 C345.7,450.0 346.4,450.3 346.9,449.9 C347.4,449.5 347.7,448.9 348.2,447.2 C348.6,445.6 349.1,443.0 349.6,440.0 C350.1,437.0 350.6,432.5 351.1,429.2 C351.5,425.9 352.0,422.8 352.5,420.2 C353.0,417.7 353.5,415.4 353.9,413.9 C354.4,412.4 354.8,412.0 355.4,411.2 C355.9,410.5 356.6,410.0 357.2,409.4 C357.8,408.8 358.3,408.4 359.0,407.6 C359.7,406.9 360.5,405.6 361.3,404.9 C362.1,404.3 362.9,403.7 363.7,403.7 C364.4,403.6 365.1,404.0 365.8,404.6 C366.5,405.1 367.3,405.8 368.0,406.7 C368.6,407.7 369.2,409.0 369.8,410.3 C370.4,411.7 371.0,413.3 371.6,414.8 C372.2,416.3 372.8,418.1 373.4,419.3 C374.0,420.5 374.6,421.1 375.2,422.0 C375.8,422.9 376.4,424.0 377.0,424.7 C377.6,425.5 378.2,426.1 378.8,426.5 C379.4,427.0 380.0,427.3 380.6,427.4 C381.2,427.5 381.8,427.0 382.4,427.1 C383.0,427.1 383.6,427.1 384.2,427.8 C384.7,428.4 385.1,429.6 385.6,431.0 C386.1,432.5 386.6,434.6 387.1,436.4 C387.5,438.2 388.0,440.3 388.5,441.8 C389.0,443.3 389.5,444.4 389.9,445.4 C390.4,446.5 390.9,447.5 391.4,448.1 C391.9,448.7 392.3,448.1 392.8,449.0 C393.3,449.9 393.8,453.1 394.3,453.5 C394.7,454.0 395.2,452.5 395.7,451.7 C396.2,451.0 396.7,449.8 397.1,449.0 C397.6,448.3 398.1,447.8 398.6,447.2 C399.1,446.6 399.5,446.0 400.0,445.4 C400.5,444.8 401.0,444.1 401.5,443.6 C401.9,443.2 402.5,442.6 402.9,442.7 C403.3,442.9 403.6,443.2 404.0,444.5 C404.3,445.9 404.7,448.3 405.1,450.8 C405.5,453.4 406.0,457.6 406.3,459.8 C406.7,462.0 406.8,462.1 407.2,464.0 C407.6,465.9 408.2,468.8 408.7,471.2 C409.1,473.6 409.6,476.6 410.1,478.4 C410.6,480.2 411.1,481.6 411.5,482.0 C412.0,482.5 412.5,482.0 413.0,481.1 C413.5,480.2 413.9,478.6 414.4,476.6 C415.0,474.7 415.7,472.5 416.2,469.4 C416.8,466.3 417.2,460.5 417.7,458.0 C418.2,455.5 418.7,454.9 419.1,454.4 C419.5,454.0 419.8,454.4 420.2,455.3 C420.6,456.2 421.0,458.4 421.3,459.8 C421.6,461.3 421.7,461.5 422.0,464.0 C422.3,466.5 422.7,470.3 423.1,474.8 C423.4,479.3 423.8,485.6 424.2,491.0 C424.5,496.4 424.8,502.1 425.2,507.2 C425.7,512.3 426.2,517.4 426.7,521.6 C427.2,525.8 427.6,529.6 428.1,532.4 C428.6,535.3 429.1,537.2 429.6,538.7 C430.0,540.2 430.5,540.8 431.0,541.4 C431.5,542.0 432.0,542.5 432.4,542.3 C432.9,542.2 433.5,541.9 433.9,540.5 C434.3,539.2 434.6,536.5 435.0,534.2 C435.3,532.0 435.6,529.0 436.0,527.0 C436.5,525.1 437.0,523.4 437.5,522.5 C438.0,521.6 438.5,520.9 438.9,521.6 C439.3,522.4 439.6,524.0 440.0,527.0 C440.4,530.0 441.0,534.5 441.4,539.6 C441.8,544.7 442.1,551.9 442.5,557.6 C442.9,563.3 443.2,571.4 443.6,573.8 C443.9,576.2 444.3,573.5 444.7,572.0 C445.0,570.5 445.3,567.2 445.7,564.8 C446.2,562.4 446.7,559.1 447.2,557.6 C447.7,556.1 448.1,555.5 448.6,555.8 C449.1,556.1 449.7,557.9 450.1,559.4 C450.4,560.9 450.7,563.9 450.8,564.8" fill="none" stroke="#FF7C80" stroke-width="1.7" stroke-linejoin="round" stroke-linecap="round" clip-path="url(#cb)"/>
<path d="M77.2,532.4 C77.3,534.2 77.3,539.6 77.6,543.2 C77.8,546.8 78.3,553.1 78.6,554.0 C78.9,554.9 79.1,550.4 79.4,548.6 C79.6,546.8 79.8,541.7 80.1,543.2 C80.3,544.7 80.5,553.1 80.8,557.6 C81.1,562.1 81.4,571.4 81.7,570.2 C82.0,569.0 82.4,556.1 82.6,550.4 C82.8,544.7 82.8,535.4 83.0,536.0 C83.1,536.6 83.4,547.9 83.7,554.0 C84.0,560.2 84.4,572.9 84.8,572.9 C85.1,572.9 85.5,562.3 85.8,554.0 C86.2,545.8 86.7,530.6 87.1,523.4 C87.5,516.2 87.7,513.3 88.0,510.8 C88.3,508.4 88.7,508.4 89.1,508.7 C89.4,509.0 89.8,509.6 90.2,512.6 C90.5,515.7 90.9,521.6 91.2,527.0 C91.6,532.4 92.0,539.3 92.3,545.0 C92.7,550.7 93.1,557.9 93.4,561.2 C93.7,564.6 93.7,567.0 93.9,565.2 C94.2,563.4 94.5,557.4 94.8,550.4 C95.1,543.5 95.5,530.6 95.7,523.4 C96.0,516.2 96.2,505.7 96.5,507.2 C96.7,508.7 97.1,525.2 97.4,532.4 C97.7,539.6 98.0,550.4 98.3,550.4 C98.6,550.4 98.9,538.9 99.2,532.4 C99.5,526.0 99.8,513.2 100.1,511.7 C100.4,510.2 100.6,518.5 101.0,523.4 C101.3,528.4 101.7,542.3 102.0,541.4 C102.4,540.5 102.6,525.4 102.9,518.0 C103.2,510.7 103.6,498.5 103.8,497.3 C104.1,496.1 104.3,505.3 104.6,510.8 C104.8,516.4 105.0,529.7 105.3,530.6 C105.5,531.5 105.8,520.3 106.0,516.2 C106.3,512.2 106.5,506.0 106.7,506.3 C107.0,506.6 107.2,515.0 107.5,518.0 C107.7,521.0 108.1,525.2 108.4,524.3 C108.7,523.4 109.0,517.0 109.3,512.6 C109.5,508.3 109.7,498.5 110.0,498.2 C110.2,497.9 110.5,507.2 110.7,510.8 C110.9,514.4 111.1,519.8 111.4,519.8 C111.7,519.8 112.2,513.4 112.5,510.8 C112.8,508.3 113.0,503.3 113.2,504.5 C113.5,505.7 113.7,513.8 113.9,518.0 C114.2,522.2 114.4,530.9 114.7,529.7 C114.9,528.5 115.1,516.8 115.4,510.8 C115.6,504.8 116.0,494.6 116.3,493.7 C116.6,492.8 116.9,502.3 117.2,505.4 C117.4,508.6 117.6,512.6 117.9,512.6 C118.2,512.6 118.6,508.7 119.0,505.4 C119.3,502.1 119.7,493.9 120.1,492.8 C120.4,491.8 120.7,497.3 121.0,499.1 C121.3,500.9 121.5,505.0 121.9,503.6 C122.2,502.3 122.7,494.8 123.1,491.0 C123.5,487.3 124.0,482.0 124.4,481.1 C124.8,480.2 125.1,484.0 125.5,485.6 C125.8,487.3 126.3,491.3 126.7,491.0 C127.1,490.7 127.5,486.4 128.0,483.8 C128.4,481.3 128.9,477.2 129.4,475.7 C129.9,474.2 130.4,475.4 130.9,474.8 C131.3,474.2 131.9,471.7 132.3,472.1 C132.7,472.6 133.0,475.9 133.4,477.5 C133.7,479.2 134.1,481.1 134.5,482.0 C134.8,482.9 135.2,481.9 135.5,482.9 C135.9,484.0 136.2,487.1 136.6,488.3 C137.0,489.5 137.6,488.9 138.1,490.1 C138.5,491.3 138.9,493.7 139.3,495.5 C139.7,497.3 140.1,499.6 140.6,500.9 C141.0,502.2 141.5,503.0 142.0,503.3 C142.5,503.6 143.0,503.9 143.5,502.7 C143.9,501.6 144.2,498.1 144.5,496.4 C144.8,494.7 145.0,492.4 145.3,492.4 C145.6,492.4 145.9,495.4 146.3,496.4 C146.8,497.4 147.4,496.7 147.8,498.2 C148.2,499.7 148.5,503.0 148.9,505.4 C149.3,507.8 149.7,510.5 150.1,512.6 C150.5,514.7 151.0,518.0 151.4,518.0 C151.8,518.0 152.1,515.6 152.5,512.6 C152.8,509.6 153.2,503.4 153.5,500.0 C153.8,496.6 154.0,491.8 154.3,492.4 C154.5,493.0 154.9,499.3 155.2,503.6 C155.5,507.9 155.7,514.0 156.1,518.0 C156.4,522.1 156.8,526.1 157.1,527.9 C157.4,529.8 157.6,529.9 157.9,529.2 C158.2,528.4 158.6,526.8 158.9,523.4 C159.3,520.1 159.7,514.7 160.0,509.0 C160.4,503.3 160.7,494.9 161.1,489.2 C161.5,483.5 161.9,478.0 162.2,474.8 C162.5,471.7 162.7,470.3 162.9,470.3 C163.1,470.3 163.3,472.6 163.6,474.8 C163.9,477.1 164.4,481.7 164.7,483.8 C165.0,485.9 165.3,487.6 165.6,487.4 C165.9,487.3 166.3,484.0 166.7,482.9 C167.1,481.9 167.6,482.8 167.9,481.1 C168.3,479.5 168.5,475.9 168.7,473.0 C168.9,470.2 169.0,466.8 169.2,464.0 C169.4,461.2 169.5,459.0 169.7,456.2 C170.0,453.4 170.2,452.3 170.8,447.2 C171.5,442.1 172.6,431.9 173.5,425.6 C174.4,419.3 175.6,412.4 176.2,409.4 C176.9,406.5 177.0,407.7 177.5,408.0 C177.9,408.3 178.4,408.3 178.9,411.2 C179.5,414.2 180.1,420.2 180.7,425.6 C181.3,431.0 181.9,439.1 182.5,443.6 C183.1,448.1 183.8,450.2 184.3,452.6 C184.8,455.0 185.2,456.1 185.6,458.0 C186.0,459.9 186.3,461.5 186.7,464.0 C187.0,466.5 187.4,469.7 187.8,473.0 C188.1,476.3 188.4,478.7 188.8,483.8 C189.3,488.9 189.9,496.7 190.3,503.6 C190.7,510.5 191.1,520.7 191.4,525.2 C191.7,529.8 191.8,532.2 192.1,531.0 C192.3,529.8 192.6,524.4 193.0,518.0 C193.3,511.7 193.8,500.0 194.2,492.8 C194.7,485.6 195.1,478.9 195.5,474.8 C195.9,470.8 196.5,470.0 196.8,468.5 C197.0,467.0 196.9,464.8 197.2,465.8 C197.5,466.9 197.8,469.1 198.3,474.8 C198.7,480.5 199.3,490.1 199.9,500.0 C200.5,509.9 201.0,523.7 201.7,534.2 C202.5,544.7 203.5,564.2 204.4,563.0 C205.3,561.8 206.2,539.0 207.1,527.0 C208.0,515.0 208.9,499.3 209.8,491.0 C210.7,482.8 211.8,478.7 212.5,477.5 C213.3,476.3 213.7,480.4 214.3,483.8 C214.9,487.3 215.6,494.8 216.1,498.2 C216.6,501.7 217.0,504.8 217.4,504.5 C217.8,504.2 218.1,499.7 218.4,496.4 C218.7,493.1 218.9,481.1 219.2,484.7 C219.5,488.3 219.8,506.8 220.2,518.0 C220.7,529.3 221.5,549.2 222.0,552.2 C222.6,555.2 222.9,540.8 223.3,536.0 C223.7,531.2 224.2,525.8 224.6,523.4 C225.0,521.0 225.3,519.5 225.6,521.6 C226.0,523.7 226.5,529.1 226.9,536.0 C227.3,542.9 227.8,556.4 228.2,563.0 C228.5,569.6 228.7,580.1 228.9,575.6 C229.1,571.1 229.3,548.6 229.6,536.0 C229.9,523.4 230.3,508.9 230.7,500.0 C231.1,491.2 231.4,484.3 231.8,482.9 C232.1,481.6 232.4,491.2 232.9,491.9 C233.3,492.7 233.8,490.9 234.3,487.4 C234.8,484.0 235.5,475.4 235.9,471.2 C236.3,467.0 236.5,463.6 236.8,462.2 C237.1,460.8 237.5,462.1 237.9,462.6 C238.3,463.0 238.6,463.2 239.0,464.9 C239.4,466.6 239.9,468.7 240.4,473.0 C241.0,477.4 241.6,484.1 242.2,491.0 C242.8,497.9 243.5,508.1 244.0,514.4 C244.6,520.7 245.0,526.0 245.5,528.8 C245.9,531.7 246.4,528.8 246.7,531.5 C247.1,534.2 247.3,539.5 247.6,545.0 C247.9,550.6 248.4,559.7 248.7,564.8 C249.0,569.9 249.1,573.8 249.4,575.6 C249.8,577.4 250.5,579.2 250.9,575.6 C251.2,572.0 251.2,562.1 251.6,554.0 C251.9,545.9 252.5,533.8 253.0,527.0 C253.5,520.3 254.0,516.3 254.5,513.5 C254.9,510.8 255.4,510.8 255.9,510.5 C256.4,510.1 257.0,509.9 257.5,511.2 C258.0,512.4 258.3,514.5 258.8,518.0 C259.2,521.6 259.9,529.7 260.2,532.4 C260.6,535.1 260.6,535.4 260.9,534.2 C261.2,533.0 261.7,530.9 262.0,525.2 C262.4,519.5 262.7,507.2 263.1,500.0 C263.5,492.8 263.8,486.7 264.2,482.0 C264.5,477.4 264.9,472.4 265.3,472.1 C265.6,471.8 265.9,476.8 266.3,480.2 C266.8,483.7 267.4,490.3 267.8,492.8 C268.1,495.4 268.2,495.8 268.5,495.5 C268.8,495.2 269.2,491.2 269.6,491.0 C269.9,490.9 270.3,491.9 270.7,494.6 C271.1,497.3 271.5,503.3 271.9,507.2 C272.3,511.1 272.7,515.3 273.2,518.0 C273.6,520.7 274.1,522.0 274.6,523.4 C275.2,524.9 275.8,527.0 276.4,526.7 C277.0,526.4 277.6,524.3 278.2,521.6 C278.8,519.0 279.5,513.8 280.0,510.8 C280.6,507.8 281.0,505.1 281.5,503.6 C281.9,502.1 282.2,500.6 282.5,501.8 C282.9,503.0 283.3,504.5 283.6,510.8 C284.0,517.1 284.4,528.8 284.7,539.6 C285.0,550.4 285.2,569.6 285.4,575.6 C285.7,581.6 285.9,582.2 286.1,575.6 C286.4,569.0 286.5,545.9 286.9,536.0 C287.2,526.1 287.6,521.0 288.1,516.2 C288.6,511.4 289.3,510.8 289.9,507.2 C290.5,503.6 291.1,498.1 291.7,494.6 C292.3,491.2 293.0,487.7 293.5,486.5 C294.0,485.3 294.3,486.5 294.8,487.4 C295.2,488.3 295.7,491.0 296.2,491.9 C296.8,492.8 297.5,492.2 298.0,492.8 C298.6,493.4 299.0,494.0 299.5,495.5 C299.9,497.0 300.2,500.2 300.7,501.8 C301.2,503.5 301.9,504.4 302.5,505.4 C303.1,506.5 303.7,507.4 304.3,508.1 C304.9,508.9 305.5,510.1 306.1,509.9 C306.7,509.8 307.3,508.4 307.9,507.2 C308.6,506.0 309.4,503.6 310.0,502.7 C310.6,501.8 311.2,502.1 311.8,501.8 C312.4,501.5 313.1,501.8 313.6,500.9 C314.1,500.0 314.6,497.8 315.0,496.4 C315.5,495.1 315.9,493.1 316.3,492.8 C316.7,492.5 317.2,493.4 317.6,494.6 C318.0,495.8 318.3,500.0 318.6,500.0 C319.0,500.0 319.3,496.4 319.7,494.6 C320.1,492.8 320.7,489.5 321.2,489.2 C321.6,488.9 322.1,492.7 322.6,492.8 C323.1,493.0 323.8,491.0 324.4,490.1 C325.0,489.2 325.6,488.3 326.2,487.4 C326.8,486.5 327.4,486.2 328.0,484.7 C328.6,483.2 329.3,480.7 329.8,478.4 C330.3,476.2 330.9,474.3 331.2,471.2 C331.6,468.1 331.6,463.2 332.0,459.8 C332.3,456.4 332.7,454.7 333.4,450.8 C334.1,446.9 335.2,440.6 336.1,436.4 C337.0,432.2 337.9,428.9 338.8,425.6 C339.7,422.3 340.6,419.3 341.5,416.6 C342.4,413.9 343.3,411.7 344.2,409.4 C345.1,407.2 346.2,404.5 346.9,403.1 C347.7,401.8 348.1,401.6 348.7,401.3 C349.3,401.0 349.9,401.0 350.5,401.3 C351.1,401.6 351.7,401.9 352.3,403.1 C352.9,404.3 353.6,407.0 354.1,408.5 C354.6,410.0 354.9,411.2 355.4,412.1 C355.8,413.0 356.3,412.7 356.8,413.9 C357.4,415.1 358.0,417.5 358.6,419.3 C359.2,421.1 359.8,422.8 360.4,424.7 C361.0,426.7 361.6,428.8 362.2,431.0 C362.8,433.3 363.4,436.0 364.0,438.2 C364.6,440.5 365.2,442.4 365.8,444.5 C366.4,446.6 367.1,448.9 367.6,450.8 C368.2,452.8 368.6,455.8 369.1,456.2 C369.5,456.7 369.9,454.2 370.3,453.5 C370.7,452.9 371.2,451.8 371.6,452.3 C372.0,452.7 372.3,454.7 372.7,456.2 C373.0,457.8 373.6,460.0 373.9,461.6 C374.3,463.2 374.5,464.4 374.8,465.8 C375.1,467.2 375.3,468.8 375.7,470.3 C376.2,471.8 376.9,473.9 377.5,474.8 C378.1,475.7 378.7,476.3 379.3,475.7 C379.9,475.1 380.5,472.6 381.1,471.2 C381.7,469.9 382.4,467.3 382.9,467.6 C383.4,467.9 383.7,470.0 384.2,473.0 C384.6,476.0 385.1,481.4 385.6,485.6 C386.2,489.8 386.8,494.8 387.4,498.2 C388.0,501.7 388.6,504.4 389.2,506.3 C389.8,508.3 390.4,509.2 391.0,509.9 C391.6,510.7 392.2,511.0 392.8,510.8 C393.4,510.7 394.0,509.6 394.6,509.0 C395.2,508.4 395.8,507.6 396.4,507.2 C397.0,506.9 397.7,506.6 398.2,506.9 C398.7,507.2 398.9,509.9 399.3,509.0 C399.7,508.2 400.0,503.6 400.4,501.8 C400.7,500.0 401.1,498.2 401.5,498.2 C401.8,498.2 402.1,500.0 402.5,501.8 C403.0,503.6 403.4,507.1 404.0,509.0 C404.5,511.0 405.2,512.3 405.8,513.5 C406.3,514.7 406.7,514.7 407.2,516.2 C407.7,517.7 408.2,521.2 408.7,522.5 C409.1,523.9 409.4,525.4 409.7,524.3 C410.1,523.3 410.5,520.3 410.8,516.2 C411.2,512.2 411.5,504.1 411.9,500.0 C412.3,496.0 412.7,493.4 413.0,491.9 C413.3,490.4 413.4,490.0 413.7,491.0 C414.0,492.1 414.4,494.9 414.8,498.2 C415.2,501.5 415.7,507.5 416.2,510.8 C416.7,514.1 417.2,516.2 417.7,518.0 C418.2,519.8 418.6,520.3 419.1,521.6 C419.6,523.0 420.1,524.8 420.6,526.1 C421.0,527.5 421.6,528.7 422.0,529.7 C422.4,530.8 422.7,529.9 423.1,532.4 C423.4,535.0 423.8,540.2 424.2,545.0 C424.5,549.8 424.9,557.0 425.2,561.2 C425.6,565.4 426.0,568.7 426.3,570.2 C426.7,571.7 427.0,571.7 427.4,570.2 C427.8,568.7 428.3,565.1 428.8,561.2 C429.4,557.3 430.0,551.0 430.6,546.8 C431.2,542.6 431.9,538.7 432.4,536.0 C433.0,533.3 433.4,531.7 433.9,530.6 C434.3,529.6 434.8,528.8 435.1,529.7 C435.5,530.6 435.8,532.0 436.0,536.0 C436.3,540.1 436.5,547.4 436.8,554.0 C437.0,560.6 437.4,572.0 437.5,575.6" fill="none" stroke="#000000" stroke-width="1.7" stroke-linejoin="round" stroke-linecap="round" clip-path="url(#cb)"/>
<line x1="76.9" y1="31.7" x2="76.9" y2="251.2" stroke="#000" stroke-width="1.5"/>
<line x1="76.3" y1="250.65" x2="458.8" y2="250.65" stroke="#000" stroke-width="1.5"/>
<line x1="71.9" y1="250.7" x2="76.9" y2="250.7" stroke="#000" stroke-width="1.5"/>
<line x1="71.9" y1="228.8" x2="76.9" y2="228.8" stroke="#000" stroke-width="1.5"/>
<line x1="71.9" y1="207.0" x2="76.9" y2="207.0" stroke="#000" stroke-width="1.5"/>
<line x1="71.9" y1="185.2" x2="76.9" y2="185.2" stroke="#000" stroke-width="1.5"/>
<line x1="71.9" y1="163.3" x2="76.9" y2="163.3" stroke="#000" stroke-width="1.5"/>
<line x1="71.9" y1="141.5" x2="76.9" y2="141.5" stroke="#000" stroke-width="1.5"/>
<line x1="71.9" y1="119.7" x2="76.9" y2="119.7" stroke="#000" stroke-width="1.5"/>
<line x1="71.9" y1="97.8" x2="76.9" y2="97.8" stroke="#000" stroke-width="1.5"/>
<line x1="71.9" y1="76.0" x2="76.9" y2="76.0" stroke="#000" stroke-width="1.5"/>
<line x1="71.9" y1="54.2" x2="76.9" y2="54.2" stroke="#000" stroke-width="1.5"/>
<line x1="71.9" y1="32.3" x2="76.9" y2="32.3" stroke="#000" stroke-width="1.5"/>
<line x1="76.9" y1="250.65" x2="76.9" y2="255.3" stroke="#000" stroke-width="1.5"/>
<line x1="88.1" y1="250.65" x2="88.1" y2="254.2" stroke="#000" stroke-width="1.5"/>
<line x1="99.3" y1="250.65" x2="99.3" y2="254.2" stroke="#000" stroke-width="1.5"/>
<line x1="110.5" y1="250.65" x2="110.5" y2="254.2" stroke="#000" stroke-width="1.5"/>
<line x1="121.8" y1="250.65" x2="121.8" y2="254.2" stroke="#000" stroke-width="1.5"/>
<line x1="133.0" y1="250.65" x2="133.0" y2="255.3" stroke="#000" stroke-width="1.5"/>
<line x1="144.2" y1="250.65" x2="144.2" y2="254.2" stroke="#000" stroke-width="1.5"/>
<line x1="155.4" y1="250.65" x2="155.4" y2="254.2" stroke="#000" stroke-width="1.5"/>
<line x1="166.6" y1="250.65" x2="166.6" y2="254.2" stroke="#000" stroke-width="1.5"/>
<line x1="177.8" y1="250.65" x2="177.8" y2="254.2" stroke="#000" stroke-width="1.5"/>
<line x1="189.0" y1="250.65" x2="189.0" y2="255.3" stroke="#000" stroke-width="1.5"/>
<line x1="200.3" y1="250.65" x2="200.3" y2="254.2" stroke="#000" stroke-width="1.5"/>
<line x1="211.5" y1="250.65" x2="211.5" y2="254.2" stroke="#000" stroke-width="1.5"/>
<line x1="222.7" y1="250.65" x2="222.7" y2="254.2" stroke="#000" stroke-width="1.5"/>
<line x1="233.9" y1="250.65" x2="233.9" y2="254.2" stroke="#000" stroke-width="1.5"/>
<line x1="245.1" y1="250.65" x2="245.1" y2="255.3" stroke="#000" stroke-width="1.5"/>
<line x1="256.3" y1="250.65" x2="256.3" y2="254.2" stroke="#000" stroke-width="1.5"/>
<line x1="267.5" y1="250.65" x2="267.5" y2="254.2" stroke="#000" stroke-width="1.5"/>
<line x1="278.8" y1="250.65" x2="278.8" y2="254.2" stroke="#000" stroke-width="1.5"/>
<line x1="290.0" y1="250.65" x2="290.0" y2="254.2" stroke="#000" stroke-width="1.5"/>
<line x1="301.2" y1="250.65" x2="301.2" y2="255.3" stroke="#000" stroke-width="1.5"/>
<line x1="312.4" y1="250.65" x2="312.4" y2="254.2" stroke="#000" stroke-width="1.5"/>
<line x1="323.6" y1="250.65" x2="323.6" y2="254.2" stroke="#000" stroke-width="1.5"/>
<line x1="334.8" y1="250.65" x2="334.8" y2="254.2" stroke="#000" stroke-width="1.5"/>
<line x1="346.0" y1="250.65" x2="346.0" y2="254.2" stroke="#000" stroke-width="1.5"/>
<line x1="357.2" y1="250.65" x2="357.2" y2="255.3" stroke="#000" stroke-width="1.5"/>
<line x1="368.5" y1="250.65" x2="368.5" y2="254.2" stroke="#000" stroke-width="1.5"/>
<line x1="379.7" y1="250.65" x2="379.7" y2="254.2" stroke="#000" stroke-width="1.5"/>
<line x1="390.9" y1="250.65" x2="390.9" y2="254.2" stroke="#000" stroke-width="1.5"/>
<line x1="402.1" y1="250.65" x2="402.1" y2="254.2" stroke="#000" stroke-width="1.5"/>
<line x1="413.3" y1="250.65" x2="413.3" y2="255.3" stroke="#000" stroke-width="1.5"/>
<line x1="424.5" y1="250.65" x2="424.5" y2="254.2" stroke="#000" stroke-width="1.5"/>
<line x1="435.7" y1="250.65" x2="435.7" y2="254.2" stroke="#000" stroke-width="1.5"/>
<line x1="447.0" y1="250.65" x2="447.0" y2="254.2" stroke="#000" stroke-width="1.5"/>
<line x1="458.2" y1="250.65" x2="458.2" y2="254.2" stroke="#000" stroke-width="1.5"/>
<line x1="76.25" y1="356.3" x2="76.25" y2="576.3" stroke="#000" stroke-width="1.5"/>
<line x1="75.7" y1="575.7" x2="451.5" y2="575.7" stroke="#000" stroke-width="1.5"/>
<line x1="71.2" y1="575.7" x2="76.25" y2="575.7" stroke="#000" stroke-width="1.5"/>
<line x1="71.2" y1="553.8" x2="76.25" y2="553.8" stroke="#000" stroke-width="1.5"/>
<line x1="71.2" y1="531.9" x2="76.25" y2="531.9" stroke="#000" stroke-width="1.5"/>
<line x1="71.2" y1="510.1" x2="76.25" y2="510.1" stroke="#000" stroke-width="1.5"/>
<line x1="71.2" y1="488.2" x2="76.25" y2="488.2" stroke="#000" stroke-width="1.5"/>
<line x1="71.2" y1="466.3" x2="76.25" y2="466.3" stroke="#000" stroke-width="1.5"/>
<line x1="71.2" y1="444.4" x2="76.25" y2="444.4" stroke="#000" stroke-width="1.5"/>
<line x1="71.2" y1="422.5" x2="76.25" y2="422.5" stroke="#000" stroke-width="1.5"/>
<line x1="71.2" y1="400.7" x2="76.25" y2="400.7" stroke="#000" stroke-width="1.5"/>
<line x1="71.2" y1="378.8" x2="76.25" y2="378.8" stroke="#000" stroke-width="1.5"/>
<line x1="71.2" y1="356.9" x2="76.25" y2="356.9" stroke="#000" stroke-width="1.5"/>
<line x1="76.2" y1="575.7" x2="76.2" y2="580.4" stroke="#000" stroke-width="1.5"/>
<line x1="87.3" y1="575.7" x2="87.3" y2="579.3" stroke="#000" stroke-width="1.5"/>
<line x1="98.3" y1="575.7" x2="98.3" y2="579.3" stroke="#000" stroke-width="1.5"/>
<line x1="109.3" y1="575.7" x2="109.3" y2="579.3" stroke="#000" stroke-width="1.5"/>
<line x1="120.3" y1="575.7" x2="120.3" y2="579.3" stroke="#000" stroke-width="1.5"/>
<line x1="131.3" y1="575.7" x2="131.3" y2="580.4" stroke="#000" stroke-width="1.5"/>
<line x1="142.4" y1="575.7" x2="142.4" y2="579.3" stroke="#000" stroke-width="1.5"/>
<line x1="153.4" y1="575.7" x2="153.4" y2="579.3" stroke="#000" stroke-width="1.5"/>
<line x1="164.4" y1="575.7" x2="164.4" y2="579.3" stroke="#000" stroke-width="1.5"/>
<line x1="175.4" y1="575.7" x2="175.4" y2="579.3" stroke="#000" stroke-width="1.5"/>
<line x1="186.4" y1="575.7" x2="186.4" y2="580.4" stroke="#000" stroke-width="1.5"/>
<line x1="197.5" y1="575.7" x2="197.5" y2="579.3" stroke="#000" stroke-width="1.5"/>
<line x1="208.5" y1="575.7" x2="208.5" y2="579.3" stroke="#000" stroke-width="1.5"/>
<line x1="219.5" y1="575.7" x2="219.5" y2="579.3" stroke="#000" stroke-width="1.5"/>
<line x1="230.5" y1="575.7" x2="230.5" y2="579.3" stroke="#000" stroke-width="1.5"/>
<line x1="241.6" y1="575.7" x2="241.6" y2="580.4" stroke="#000" stroke-width="1.5"/>
<line x1="252.6" y1="575.7" x2="252.6" y2="579.3" stroke="#000" stroke-width="1.5"/>
<line x1="263.6" y1="575.7" x2="263.6" y2="579.3" stroke="#000" stroke-width="1.5"/>
<line x1="274.6" y1="575.7" x2="274.6" y2="579.3" stroke="#000" stroke-width="1.5"/>
<line x1="285.6" y1="575.7" x2="285.6" y2="579.3" stroke="#000" stroke-width="1.5"/>
<line x1="296.6" y1="575.7" x2="296.6" y2="580.4" stroke="#000" stroke-width="1.5"/>
<line x1="307.7" y1="575.7" x2="307.7" y2="579.3" stroke="#000" stroke-width="1.5"/>
<line x1="318.7" y1="575.7" x2="318.7" y2="579.3" stroke="#000" stroke-width="1.5"/>
<line x1="329.7" y1="575.7" x2="329.7" y2="579.3" stroke="#000" stroke-width="1.5"/>
<line x1="340.7" y1="575.7" x2="340.7" y2="579.3" stroke="#000" stroke-width="1.5"/>
<line x1="351.8" y1="575.7" x2="351.8" y2="580.4" stroke="#000" stroke-width="1.5"/>
<line x1="362.8" y1="575.7" x2="362.8" y2="579.3" stroke="#000" stroke-width="1.5"/>
<line x1="373.8" y1="575.7" x2="373.8" y2="579.3" stroke="#000" stroke-width="1.5"/>
<line x1="384.8" y1="575.7" x2="384.8" y2="579.3" stroke="#000" stroke-width="1.5"/>
<line x1="395.8" y1="575.7" x2="395.8" y2="579.3" stroke="#000" stroke-width="1.5"/>
<line x1="406.9" y1="575.7" x2="406.9" y2="580.4" stroke="#000" stroke-width="1.5"/>
<line x1="417.9" y1="575.7" x2="417.9" y2="579.3" stroke="#000" stroke-width="1.5"/>
<line x1="428.9" y1="575.7" x2="428.9" y2="579.3" stroke="#000" stroke-width="1.5"/>
<line x1="439.9" y1="575.7" x2="439.9" y2="579.3" stroke="#000" stroke-width="1.5"/>
<line x1="450.9" y1="575.7" x2="450.9" y2="579.3" stroke="#000" stroke-width="1.5"/>
<g font-family="'Liberation Sans', Arial, sans-serif" font-weight="700" fill="#000">
<text x="63.5" y="255.6" font-size="13.8" text-anchor="end" textLength="7.9" lengthAdjust="spacingAndGlyphs">0</text>
<text x="63.5" y="233.7" font-size="13.8" text-anchor="end" textLength="19.8" lengthAdjust="spacingAndGlyphs">0.1</text>
<text x="63.5" y="211.9" font-size="13.8" text-anchor="end" textLength="19.8" lengthAdjust="spacingAndGlyphs">0.2</text>
<text x="63.5" y="190.1" font-size="13.8" text-anchor="end" textLength="19.8" lengthAdjust="spacingAndGlyphs">0.3</text>
<text x="63.5" y="168.2" font-size="13.8" text-anchor="end" textLength="19.8" lengthAdjust="spacingAndGlyphs">0.4</text>
<text x="63.5" y="146.4" font-size="13.8" text-anchor="end" textLength="19.8" lengthAdjust="spacingAndGlyphs">0.5</text>
<text x="63.5" y="124.6" font-size="13.8" text-anchor="end" textLength="19.8" lengthAdjust="spacingAndGlyphs">0.6</text>
<text x="63.5" y="102.7" font-size="13.8" text-anchor="end" textLength="19.8" lengthAdjust="spacingAndGlyphs">0.7</text>
<text x="63.5" y="80.9" font-size="13.8" text-anchor="end" textLength="19.8" lengthAdjust="spacingAndGlyphs">0.8</text>
<text x="63.5" y="59.1" font-size="13.8" text-anchor="end" textLength="19.8" lengthAdjust="spacingAndGlyphs">0.9</text>
<text x="63.5" y="37.2" font-size="13.8" text-anchor="end" textLength="7.9" lengthAdjust="spacingAndGlyphs">1</text>
<text x="62.6" y="580.6" font-size="13.8" text-anchor="end" textLength="7.9" lengthAdjust="spacingAndGlyphs">0</text>
<text x="62.6" y="558.7" font-size="13.8" text-anchor="end" textLength="19.8" lengthAdjust="spacingAndGlyphs">0.1</text>
<text x="62.6" y="536.8" font-size="13.8" text-anchor="end" textLength="19.8" lengthAdjust="spacingAndGlyphs">0.2</text>
<text x="62.6" y="515.0" font-size="13.8" text-anchor="end" textLength="19.8" lengthAdjust="spacingAndGlyphs">0.3</text>
<text x="62.6" y="493.1" font-size="13.8" text-anchor="end" textLength="19.8" lengthAdjust="spacingAndGlyphs">0.4</text>
<text x="62.6" y="471.2" font-size="13.8" text-anchor="end" textLength="19.8" lengthAdjust="spacingAndGlyphs">0.5</text>
<text x="62.6" y="449.3" font-size="13.8" text-anchor="end" textLength="19.8" lengthAdjust="spacingAndGlyphs">0.6</text>
<text x="62.6" y="427.4" font-size="13.8" text-anchor="end" textLength="19.8" lengthAdjust="spacingAndGlyphs">0.7</text>
<text x="62.6" y="405.6" font-size="13.8" text-anchor="end" textLength="19.8" lengthAdjust="spacingAndGlyphs">0.8</text>
<text x="62.6" y="383.7" font-size="13.8" text-anchor="end" textLength="19.8" lengthAdjust="spacingAndGlyphs">0.9</text>
<text x="62.6" y="361.8" font-size="13.8" text-anchor="end" textLength="7.9" lengthAdjust="spacingAndGlyphs">1</text>
<text x="76.9" y="275.1" font-size="13.8" text-anchor="middle" textLength="23.6" lengthAdjust="spacingAndGlyphs">500</text>
<text x="133.0" y="275.1" font-size="13.8" text-anchor="middle" textLength="29.6" lengthAdjust="spacingAndGlyphs">1500</text>
<text x="189.0" y="275.1" font-size="13.8" text-anchor="middle" textLength="29.6" lengthAdjust="spacingAndGlyphs">2500</text>
<text x="245.1" y="275.1" font-size="13.8" text-anchor="middle" textLength="29.6" lengthAdjust="spacingAndGlyphs">3500</text>
<text x="301.2" y="275.1" font-size="13.8" text-anchor="middle" textLength="29.6" lengthAdjust="spacingAndGlyphs">4500</text>
<text x="357.2" y="275.1" font-size="13.8" text-anchor="middle" textLength="29.6" lengthAdjust="spacingAndGlyphs">5500</text>
<text x="413.3" y="275.1" font-size="13.8" text-anchor="middle" textLength="29.6" lengthAdjust="spacingAndGlyphs">6500</text>
<text x="76.2" y="600.1" font-size="13.8" text-anchor="middle" textLength="23.6" lengthAdjust="spacingAndGlyphs">500</text>
<text x="131.3" y="600.1" font-size="13.8" text-anchor="middle" textLength="29.6" lengthAdjust="spacingAndGlyphs">1500</text>
<text x="186.4" y="600.1" font-size="13.8" text-anchor="middle" textLength="29.6" lengthAdjust="spacingAndGlyphs">2500</text>
<text x="241.6" y="600.1" font-size="13.8" text-anchor="middle" textLength="29.6" lengthAdjust="spacingAndGlyphs">3500</text>
<text x="296.6" y="600.1" font-size="13.8" text-anchor="middle" textLength="29.6" lengthAdjust="spacingAndGlyphs">4500</text>
<text x="351.8" y="600.1" font-size="13.8" text-anchor="middle" textLength="29.6" lengthAdjust="spacingAndGlyphs">5500</text>
<text x="406.9" y="600.1" font-size="13.8" text-anchor="middle" textLength="29.6" lengthAdjust="spacingAndGlyphs">6500</text>
<text x="268.0" y="302.2" font-size="18.6" text-anchor="middle" textLength="153.5" lengthAdjust="spacingAndGlyphs">Wavelength (nm)</text>
<text x="263.4" y="627.2" font-size="18.6" text-anchor="middle" textLength="152.0" lengthAdjust="spacingAndGlyphs">Wavelength (nm)</text>
<text transform="translate(34.8,141.5) rotate(-90)" font-size="20.3" text-anchor="middle" textLength="114.5" lengthAdjust="spacingAndGlyphs">Absorptance</text>
<text transform="translate(34.8,466.5) rotate(-90)" font-size="20.3" text-anchor="middle" textLength="114.5" lengthAdjust="spacingAndGlyphs">Absorptance</text>
<text x="521.4" y="76.1" font-size="13.8" text-anchor="start" textLength="182.5" lengthAdjust="spacingAndGlyphs">D: 200nm P: 500nm L: 400nm</text>
<text x="521.4" y="100.6" font-size="13.8" text-anchor="start" textLength="182.5" lengthAdjust="spacingAndGlyphs">D: 300nm P: 500nm L: 750nm</text>
<text x="521.4" y="125.1" font-size="13.8" text-anchor="start" textLength="198.1" lengthAdjust="spacingAndGlyphs">D: 400nm P: 1000nm L: 1000nm</text>
<text x="521.4" y="149.6" font-size="13.8" text-anchor="start" textLength="198.1" lengthAdjust="spacingAndGlyphs">D: 500nm P: 1500nm L: 1500nm</text>
<text x="521.4" y="174.1" font-size="13.8" text-anchor="start" textLength="198.1" lengthAdjust="spacingAndGlyphs">D: 600nm P: 2000nm L: 2000nm</text>
<text x="521.4" y="198.6" font-size="13.8" text-anchor="start" textLength="198.1" lengthAdjust="spacingAndGlyphs">D: 700nm P: 2000nm L: 2000nm</text>
<text x="521.4" y="223.1" font-size="13.8" text-anchor="start" textLength="198.1" lengthAdjust="spacingAndGlyphs">D: 800nm P: 2500nm L: 3000nm</text>
<text x="521.4" y="247.6" font-size="13.8" text-anchor="start" textLength="198.1" lengthAdjust="spacingAndGlyphs">D: 900nm P: 3000nm L: 3500nm</text>
<text x="521.4" y="272.1" font-size="13.8" text-anchor="start" textLength="141.8" lengthAdjust="spacingAndGlyphs">Thin Film (L: 10000nm)</text>
<text x="513.5" y="462.9" font-size="13.8" text-anchor="start" textLength="205.6" lengthAdjust="spacingAndGlyphs">D: 1000nm P: 3000nm L: 4000nm</text>
<text x="513.5" y="487.2" font-size="13.8" text-anchor="start" textLength="205.6" lengthAdjust="spacingAndGlyphs">D: 1100nm P: 2500nm L: 5000nm</text>
<text x="513.5" y="511.6" font-size="13.8" text-anchor="start" textLength="205.6" lengthAdjust="spacingAndGlyphs">D: 1200nm P: 3000nm L: 7500nm</text>
<text x="513.5" y="536.0" font-size="13.8" text-anchor="start" textLength="142.0" lengthAdjust="spacingAndGlyphs">Thin Film (L: 10000nm)</text>
</g>
<line x1="490.6" y1="71.5" x2="518.0" y2="71.5" stroke="#000000" stroke-width="1.7"/>
<line x1="490.6" y1="96.0" x2="518.0" y2="96.0" stroke="#FF7C80" stroke-width="1.7"/>
<line x1="490.6" y1="120.5" x2="518.0" y2="120.5" stroke="#00B050" stroke-width="1.7"/>
<line x1="490.6" y1="145.0" x2="518.0" y2="145.0" stroke="#0070C0" stroke-width="1.7"/>
<line x1="490.6" y1="169.5" x2="518.0" y2="169.5" stroke="#00B0F0" stroke-width="1.7"/>
<line x1="490.6" y1="194.0" x2="518.0" y2="194.0" stroke="#7030A0" stroke-width="1.7"/>
<line x1="490.6" y1="218.5" x2="518.0" y2="218.5" stroke="#C80000" stroke-width="1.7"/>
<line x1="490.6" y1="243.0" x2="518.0" y2="243.0" stroke="#002060" stroke-width="1.7"/>
<line x1="490.6" y1="267.5" x2="518.0" y2="267.5" stroke="#CCCC00" stroke-width="1.7" stroke-dasharray="5.8 5"/>
<line x1="483.2" y1="458.3" x2="511.3" y2="458.3" stroke="#000000" stroke-width="1.7"/>
<line x1="483.2" y1="482.6" x2="511.3" y2="482.6" stroke="#FF7C80" stroke-width="1.7"/>
<line x1="483.2" y1="507.0" x2="511.3" y2="507.0" stroke="#00B050" stroke-width="1.7"/>
<line x1="483.2" y1="531.4" x2="511.3" y2="531.4" stroke="#CCCC00" stroke-width="1.7" stroke-dasharray="5.8 5"/>
<rect x="484.8" y="58.4" width="237.9" height="221.7" fill="none" stroke="#000" stroke-width="1"/>
<rect x="477.5" y="445.2" width="246.5" height="98.6" fill="none" stroke="#000" stroke-width="1"/>
<g font-family="'Liberation Serif', 'Times New Roman', serif" font-weight="700" fill="#000">
<text x="0.5" y="13.6" font-size="18.4">(a)</text>
<text x="0.8" y="338.3" font-size="18.0">(b)</text>
</g>
</svg>
</body></html>
